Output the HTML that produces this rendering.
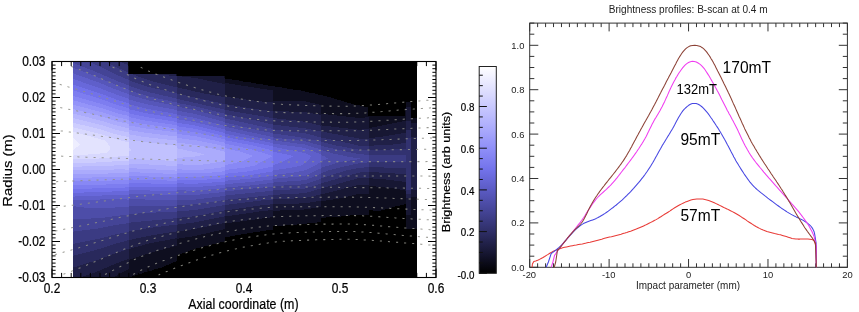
<!DOCTYPE html><html><head><meta charset="utf-8"><title>Brightness profiles</title>
<style>html,body{margin:0;padding:0;background:#fff}svg{display:block}text{font-family:"Liberation Sans",Arial,Helvetica,sans-serif}</style></head><body>
<svg width="859" height="312" viewBox="0 0 859 312">
<rect width="859" height="312" fill="#fff"/>
<g shape-rendering="crispEdges"><rect x="73.0" y="61.5" width="343.8" height="216.0" fill="#000"/><path fill="#0e0e1f" fill-rule="evenodd" d="M74,61.5L128.7,61.5L128.8,277.5L73,277.5L73,61.5Z"/><path fill="#0e0e1f" fill-rule="evenodd" d="M74,61.5L128.6,61.5L128.8,277.5L73,277.5L73,61.5Z"/><path fill="#171733" fill-rule="evenodd" d="M74,61.5L128.4,61.5L128.5,73.5L128.8,73.7L128.8,268.8L113.1,277.5L73,277.5L73,61.5Z"/><path fill="#202047" fill-rule="evenodd" d="M74,61.5L128.2,61.5L128.3,73.5L128.8,73.7L128.8,258.7L116.8,263.2L97.9,271.3L80.6,277.5L73,277.5L73,61.5Z"/><path fill="#29295c" fill-rule="evenodd" d="M74,61.5L127.9,61.5L128.2,73.5L128.8,73.8L128.8,248.6L95.9,260.5L73,267.6L73,61.5Z"/><path fill="#323270" fill-rule="evenodd" d="M74,61.5L120.1,61.5L127.8,65.1L128,73.5L128.8,73.9L128.8,240.1L116.8,243.3L97.9,249.4L73,255.8L73,61.5Z"/><path fill="#3b3b83" fill-rule="evenodd" d="M74,61.5L105.7,61.5L116.8,67.3L127.8,72.3L127.8,73.5L128.8,74L128.8,231.7L116.8,234.1L98.9,238.8L73,243.8L73,61.5Z"/><path fill="#444496" fill-rule="evenodd" d="M74,61.5L88,61.5L101.9,67.5L117.8,75.3L128.8,79.9L128.8,223.1L116.8,224.8L98.9,228.4L73,231.6L73,61.5Z"/><path fill="#4d4da8" fill-rule="evenodd" d="M73.3,63L94.9,71.4L117.8,81.3L128.8,85.5L128.8,214.8L116.8,215.8L99.9,218.2L73,219.2L73,62.9Z"/><path fill="#5656b9" fill-rule="evenodd" d="M73.6,68L94.9,76L116.8,85.3L128.8,89.7L128.8,207.2L116.8,207.4L99.9,208.5L87,207.8L75,206.4L73,206.7L73,67.7Z"/><path fill="#5f5fca" fill-rule="evenodd" d="M73.6,73.5L96.9,81.8L116.8,89.9L128.8,94.1L128.8,199.6L115.8,199L73,200.4L73,73.3Z"/><path fill="#6868da" fill-rule="evenodd" d="M73.2,79L99.9,88.1L117.8,95.2L128.8,98.7L128.8,194.5L73,196.6L73,78.9Z"/><path fill="#7272ea" fill-rule="evenodd" d="M74,84.9L100.9,93.7L117.8,100.1L128.8,103.3L128.8,190.9L73,192.9L73,84.6Z"/><path fill="#7d7df0" fill-rule="evenodd" d="M73.6,90.5L100.9,99L116.8,104.8L128.8,108.2L128.8,187.4L73,189.1L73,90.3Z"/><path fill="#8888f5" fill-rule="evenodd" d="M73.6,96L100.9,103.8L117.8,109.5L128.8,112.2L128.8,183.8L117.8,183.8L102.9,184.7L73,185.3L73,95.8Z"/><path fill="#9494f9" fill-rule="evenodd" d="M73.9,100.5L100.9,107.9L117.8,113.4L128.8,116L128.8,180.3L117.8,180.2L102.9,181L73,181.5L73,100.2Z"/><path fill="#9f9ffa" fill-rule="evenodd" d="M74,104.9L101.9,112.3L117.8,117.4L128.8,119.8L128.8,176.8L117.8,176.6L102.9,177.4L73,177.7L73,104.6Z"/><path fill="#ababfc" fill-rule="evenodd" d="M74,109.3L101.9,116.5L117.8,121.6L128.8,123.9L128.8,173.2L117.8,173L102.9,173.8L73,174L73,109.1Z"/><path fill="#b6b6fd" fill-rule="evenodd" d="M74,113.8L101.9,120.9L117.8,125.9L128.8,128.2L128.8,169.6L117.8,169.3L102.9,170.1L73,170.3L73,113.6Z"/><path fill="#c1c1fe" fill-rule="evenodd" d="M74,118.3L101.9,125.3L117.8,130.3L128.8,132.5L128.8,165.5L117.8,165.2L102.9,166.3L73,166.6L73,118.1Z"/><path fill="#cdcdfe" fill-rule="evenodd" d="M74,122.9L102.7,130L117.8,134.9L128.8,137.1L128.8,161.2L117.8,161L102.9,162.4L73,162.9L73,122.6Z"/><path fill="#d8d8fe" fill-rule="evenodd" d="M74,127.4L102.9,134.7L117.8,139.9L128.8,142.2L128.8,156.2L117.8,156.5L102.9,158.4L73,159.2L73,127.1Z"/><path fill="#e3e3fe" fill-rule="evenodd" d="M74,131.9L105,140.5L107.9,143.7L110.4,147.5L110,149L108.9,150.3L107,152.5L105.9,152.8L97.9,153.8L73,155.6L73,131.6Z"/><path fill="#eeeeff" fill-rule="evenodd" d="M73.1,137.5L80.1,144.5L73,150L73,137.4Z"/><path fill="#0e0e1f" fill-rule="evenodd" d="M129.8,73.6L175.8,73.6L176.6,74L176.8,261.1L161.7,267.5L158.8,268L156.8,269L153.8,269.5L151.8,270.5L148.8,271.1L146.8,272.1L143.8,272.6L138.8,274.6L135.8,275.1L133.8,276.1L128.8,277.5L128.8,73.6Z"/><path fill="#0e0e1f" fill-rule="evenodd" d="M129.8,73.6L175.8,73.6L176.5,74L176.8,253.7L149.4,265L128.8,275.4L128.8,73.6Z"/><path fill="#171733" fill-rule="evenodd" d="M129.8,73.7L175.8,73.8L176.3,74L176.3,75.5L176.8,75.8L176.8,245.6L150.8,252.8L128.8,259.8L128.8,73.7Z"/><path fill="#202047" fill-rule="evenodd" d="M129.8,73.8L175.8,73.9L176,75.5L176.8,75.9L176.8,238.2L149.8,243.3L128.8,249L128.8,73.8Z"/><path fill="#29295c" fill-rule="evenodd" d="M129.8,73.9L154.7,74L176.8,76.4L176.8,231.3L147.8,236L128.8,240.2L128.8,73.9Z"/><path fill="#323270" fill-rule="evenodd" d="M129.8,74L131.7,74L141.8,77.9L151.8,81.1L176.8,87.4L176.8,224.5L148.8,228.1L128.8,231.5L128.8,74Z"/><path fill="#3b3b83" fill-rule="evenodd" d="M129.6,80.5L139,84L148.8,87L176.8,93.4L176.8,218.1L128.8,222.7L128.8,80.2Z"/><path fill="#444496" fill-rule="evenodd" d="M129.1,86L148.1,92L176.8,98.6L176.8,211.6L144.8,213L128.8,214.2L128.8,85.9Z"/><path fill="#4d4da8" fill-rule="evenodd" d="M129.7,90.5L148.8,96.4L176.8,102.5L176.8,205.7L159.8,206.3L128.8,206.4L128.8,90.2Z"/><path fill="#5656b9" fill-rule="evenodd" d="M129.8,95L148.8,100.4L176.8,106.2L176.8,200.5L158.8,200.3L128.8,198.6L128.8,94.7Z"/><path fill="#5f5fca" fill-rule="evenodd" d="M128.9,99.5L147.8,104.5L176.8,110.1L176.8,195.3L148.8,193.8L128.8,193.9L128.8,99.5Z"/><path fill="#6868da" fill-rule="evenodd" d="M129.8,104.5L146.8,108.7L176.8,114.1L176.8,190.9L128.8,190.2L128.8,104.2Z"/><path fill="#7272ea" fill-rule="evenodd" d="M129.8,109.4L146.8,113.3L176.8,118.3L176.8,187.5L128.8,186.6L128.8,109.2Z"/><path fill="#7d7df0" fill-rule="evenodd" d="M129.8,113.5L146.1,117L176.8,121.9L176.8,184.2L128.8,182.9L128.8,113.2Z"/><path fill="#8888f5" fill-rule="evenodd" d="M129.8,117.3L145.8,120.6L176.8,125.3L176.8,180.8L128.8,179.4L128.8,117.1Z"/><path fill="#9494f9" fill-rule="evenodd" d="M129.8,121.3L144.8,124.2L176.8,128.6L176.8,177.6L128.8,175.7L128.8,121.1Z"/><path fill="#9f9ffa" fill-rule="evenodd" d="M129.2,125.5L144.8,128.4L176.8,132.4L176.8,174.1L128.8,172L128.8,125.4Z"/><path fill="#ababfc" fill-rule="evenodd" d="M129.6,130L144.8,132.7L176.8,136.5L176.8,170.6L128.8,168.1L128.8,129.9Z"/><path fill="#b6b6fd" fill-rule="evenodd" d="M129.8,134.5L143.8,136.9L176.8,140.6L176.8,166.2L142.8,164.1L128.8,163.7L128.8,134.3Z"/><path fill="#c1c1fe" fill-rule="evenodd" d="M129.8,139.4L143.8,142L176.8,145.7L176.8,161.1L141.8,159.4L128.8,159.3L128.8,139.2Z"/><path fill="#cdcdfe" fill-rule="evenodd" d="M129.7,148.5L130.7,149L131.2,150L130.9,150.5L128.8,150.9L128.8,148.2Z"/><path fill="#0e0e1f" fill-rule="evenodd" d="M177.8,75.6L223.8,75.6L224.5,76L224.8,241.3L194.8,248.8L176.8,255.5L176.8,75.6Z"/><path fill="#0e0e1f" fill-rule="evenodd" d="M177.8,75.7L224.4,76L224.4,78L224.8,78.2L224.8,236.7L198.8,243.2L176.8,249.6L176.8,75.7Z"/><path fill="#171733" fill-rule="evenodd" d="M177.8,75.8L223.8,75.9L224,78L224.8,78.4L224.8,229.1L194.8,236L176.8,238.9L176.8,75.8Z"/><path fill="#202047" fill-rule="evenodd" d="M177.8,76L194.8,77.9L224.8,84.1L224.8,222.9L194.8,228.9L176.8,231.6L176.8,76Z"/><path fill="#29295c" fill-rule="evenodd" d="M177.7,87.5L204.2,93.5L224.8,97.2L224.8,216.3L194.8,222.4L176.8,224.6L176.8,87.3Z"/><path fill="#323270" fill-rule="evenodd" d="M177.8,93.7L224.8,104.1L224.8,210.4L194.8,216.2L176.8,218L176.8,93.5Z"/><path fill="#3b3b83" fill-rule="evenodd" d="M177.7,99L224.8,109.7L224.8,205.1L194.8,210.1L176.8,211.4L176.8,98.8Z"/><path fill="#444496" fill-rule="evenodd" d="M177.8,103L194.8,106.3L224.8,113.8L224.8,200L194.8,204.3L176.8,205.3L176.8,102.8Z"/><path fill="#4d4da8" fill-rule="evenodd" d="M177.8,106.8L194.8,110L224.8,118L224.8,195.9L194.8,199.6L176.8,199.9L176.8,106.6Z"/><path fill="#5656b9" fill-rule="evenodd" d="M177.8,110.8L194.8,113.8L224.8,122L224.8,191.9L194.8,195L176.8,194.6L176.8,110.6Z"/><path fill="#5f5fca" fill-rule="evenodd" d="M177.8,115L194.8,117.8L224.8,125.9L224.8,188.1L194.8,190.6L176.8,190.4L176.8,114.8Z"/><path fill="#6868da" fill-rule="evenodd" d="M177.8,119.3L194.8,122.1L224.8,129.5L224.8,184.8L194.8,187.2L176.8,186.9L176.8,119.1Z"/><path fill="#7272ea" fill-rule="evenodd" d="M177.8,122.8L194.8,125.4L224.8,133L224.8,181.5L195.8,183.7L176.8,183.4L176.8,122.7Z"/><path fill="#7d7df0" fill-rule="evenodd" d="M177.8,126.3L194.8,128.8L224.8,136.1L224.8,178.2L195.8,180.3L176.8,179.9L176.8,126.1Z"/><path fill="#8888f5" fill-rule="evenodd" d="M177.8,129.8L194.8,132.1L224.8,139.4L224.8,174.9L197.6,177L176.8,176.6L176.8,129.6Z"/><path fill="#9494f9" fill-rule="evenodd" d="M177.8,133.9L194.8,136.1L224.8,142.7L224.8,171.2L208.8,172.8L196.8,173.5L176.8,173L176.8,133.7Z"/><path fill="#9f9ffa" fill-rule="evenodd" d="M177.6,138L195.8,140.3L212.4,143.5L224.8,146.5L224.8,166.9L210.9,169L200.8,169.7L194.8,170L176.8,169.3L176.8,137.9Z"/><path fill="#ababfc" fill-rule="evenodd" d="M177.8,142.6L194.8,144.8L203.8,146.4L224.8,151.7L224.8,160.4L222.8,161.2L213.8,163L202.8,164.5L194.8,164.9L176.8,164.3L176.8,142.5Z"/><path fill="#b6b6fd" fill-rule="evenodd" d="M177.8,148.5L198.8,152.9L204.3,154.5L192.8,157L176.8,157.8L176.8,148.3Z"/><path fill="#0e0e1f" fill-rule="evenodd" d="M225.4,78.5L239.8,80.7L240.8,81.2L242.8,81.2L243.8,81.7L245.8,81.7L246.8,82.2L249.8,82.2L250.8,82.7L252.8,82.7L253.8,83.2L267.8,85.2L268.8,85.7L271.8,85.7L272.8,86.2L272.8,229.5L241.8,234.3L224.8,237.4L224.8,78.2Z"/><path fill="#0e0e1f" fill-rule="evenodd" d="M225.2,78.5L233.8,79.8L234.8,80.3L236.8,80.3L237.8,80.8L239.8,80.8L240.8,81.3L242.8,81.3L243.8,81.8L245.8,81.8L246.8,82.3L249.8,82.3L259.8,84.3L267.8,85.3L268.8,85.8L271.8,85.8L272.8,86.3L272.8,225.5L224.8,233.3L224.8,78.3Z"/><path fill="#171733" fill-rule="evenodd" d="M225.8,83L272.8,90.5L272.8,217.1L224.8,223.5L224.8,82.9Z"/><path fill="#202047" fill-rule="evenodd" d="M225.8,96.8L260.8,101.4L272.8,102.4L272.8,210L260.8,211.3L224.8,216.6L224.8,96.6Z"/><path fill="#29295c" fill-rule="evenodd" d="M225.8,104.2L260.8,109.8L272.8,111.2L272.8,204.2L260.8,205.4L224.8,210.5L224.8,104Z"/><path fill="#323270" fill-rule="evenodd" d="M225.8,110L272.8,118.1L272.8,199.5L260.8,200.5L224.8,205L224.8,109.8Z"/><path fill="#3b3b83" fill-rule="evenodd" d="M224.9,114L250.8,119.4L272.8,124.5L272.8,195L224.8,199.8L224.8,114Z"/><path fill="#444496" fill-rule="evenodd" d="M225.5,118.5L272.8,129L272.8,190.7L224.8,195.6L224.8,118.3Z"/><path fill="#4d4da8" fill-rule="evenodd" d="M225.2,122.5L261.4,131L272.8,133.1L272.8,186.5L224.8,191.4L224.8,122.4Z"/><path fill="#5656b9" fill-rule="evenodd" d="M225.8,126.8L272.8,137L272.8,182.9L249.8,185.5L224.8,187.6L224.8,126.5Z"/><path fill="#5f5fca" fill-rule="evenodd" d="M225.8,130.4L258.5,137.5L272.8,139.8L272.8,179.4L249.8,182.1L224.8,184.2L224.8,130.1Z"/><path fill="#6868da" fill-rule="evenodd" d="M225.8,133.9L272.8,143L272.8,175.8L249.8,178.7L224.8,180.8L224.8,133.6Z"/><path fill="#7272ea" fill-rule="evenodd" d="M225.6,137L272.8,146.2L272.8,171.4L248.8,175.4L224.8,177.5L224.8,136.8Z"/><path fill="#7d7df0" fill-rule="evenodd" d="M225.8,140.4L251.8,145.3L272.8,150.5L272.8,166.6L249.8,171.2L224.8,173.9L224.8,140.2Z"/><path fill="#8888f5" fill-rule="evenodd" d="M225.8,143.8L250.8,149.1L272.8,156.1L254.6,165.5L245.8,167.4L224.8,170.1L224.8,143.6Z"/><path fill="#9494f9" fill-rule="evenodd" d="M224.9,148L239.6,151.5L252.5,155.5L252,156.5L249.8,157.8L241.9,161.5L224.8,165.2L224.8,148Z"/><path fill="#0e0e1f" fill-rule="evenodd" d="M273.8,86.3L283.8,87.8L284.8,88.3L286.8,88.3L287.8,88.8L289.8,88.8L290.8,89.2L292.8,89.2L293.8,89.7L299.8,90.2L311.8,93.2L313.8,93.2L318.8,94.7L320.8,94.7L320.8,222.1L298.8,224.4L272.8,226.5L272.8,86.3Z"/><path fill="#0e0e1f" fill-rule="evenodd" d="M273.8,86.4L283.8,87.9L284.8,88.4L286.8,88.4L287.8,88.9L289.8,88.9L290.8,89.4L292.8,89.4L293.8,89.9L299.8,90.4L311.8,93.4L313.8,93.4L318.8,94.9L320.8,94.9L320.8,217L272.8,220.6L272.8,86.4Z"/><path fill="#171733" fill-rule="evenodd" d="M290.8,101L304.8,101.3L320.8,104.9L320.8,207.1L303.8,209.6L272.8,210.8L272.8,101.3L290.1,101Z"/><path fill="#202047" fill-rule="evenodd" d="M273.8,110.9L304.8,112.1L320.8,114.8L320.8,200.8L304.8,203.3L272.8,204.4L272.8,110.9Z"/><path fill="#29295c" fill-rule="evenodd" d="M272.8,118L301.8,121.2L320.8,125.6L320.8,194.3L304.8,198L272.8,199.5L272.8,118Z"/><path fill="#323270" fill-rule="evenodd" d="M273.8,124.7L304.8,128.3L320.8,131.4L320.8,188.5L304.8,193.2L272.8,194.9L272.8,124.6Z"/><path fill="#3b3b83" fill-rule="evenodd" d="M273.8,129.3L304.8,133.2L320.8,137.4L320.8,183.5L304.8,188.7L272.8,190.5L272.8,129.2Z"/><path fill="#444496" fill-rule="evenodd" d="M273.4,133.5L298.8,137L320.8,141.5L320.8,178.8L304.8,184.3L272.8,186.2L272.8,133.4Z"/><path fill="#4d4da8" fill-rule="evenodd" d="M273.6,137.5L304.8,141.2L320.8,145.5L320.8,173.9L304.8,180.2L272.8,182.6L272.8,137.4Z"/><path fill="#5656b9" fill-rule="evenodd" d="M273.8,140.4L304.8,144.5L320.8,149.5L320.8,168.5L314.6,171L304.8,176L272.8,178.9L272.8,140.2Z"/><path fill="#5f5fca" fill-rule="evenodd" d="M273.8,143.7L304.8,147.9L320.8,154.4L320.8,162L315,165.5L304.8,170.4L294.8,172.4L272.8,175.1L272.8,143.5Z"/><path fill="#6868da" fill-rule="evenodd" d="M273.8,147L299.8,151.8L304.8,153.2L311.2,156L309.8,159L301.4,165.5L291.8,167.6L272.8,170.5L272.8,146.8Z"/><path fill="#7272ea" fill-rule="evenodd" d="M273.8,151.8L293.7,156L292.5,157L281.6,162L272.8,165.3L272.8,151.6Z"/><path fill="#0e0e1f" fill-rule="evenodd" d="M321.1,95L330.8,97.3L337.8,99.8L340.8,100.3L342.8,101.3L345.8,101.8L347.8,102.8L350.8,103.3L352.8,104.3L356.8,104.8L368.3,107.5L368.5,116L368.8,116.2L368.8,214.5L366.8,214.8L358.8,214.5L340.8,216.5L320.8,217.9L320.8,94.9Z"/><path fill="#0e0e1f" fill-rule="evenodd" d="M321.1,97.5L341.8,101L345.8,102L347.8,103L350.8,103.5L352.8,104.4L368,107.5L368.3,116L368.8,116.3L368.8,208.3L358.8,207.9L340.8,210.4L320.8,212.4L320.8,97.4Z"/><path fill="#171733" fill-rule="evenodd" d="M321.8,113.8L358.8,117.9L368.8,117.3L368.8,194.1L358.8,193.9L341.8,198.1L320.8,201.4L320.8,113.7Z"/><path fill="#202047" fill-rule="evenodd" d="M321.8,125.5L358.8,129.7L368.8,129.1L368.8,185L358.8,184.8L320.8,194.6L320.8,125.3Z"/><path fill="#29295c" fill-rule="evenodd" d="M321.8,131.5L358.8,138.5L368.8,138.6L368.8,177.9L358.8,178.1L320.8,188.6L320.8,131.3Z"/><path fill="#323270" fill-rule="evenodd" d="M320.9,137.5L341.4,141.5L357.7,145.5L368.8,145.9L368.8,172L358.8,172.6L320.8,183.5L320.8,137.5Z"/><path fill="#3b3b83" fill-rule="evenodd" d="M321.8,142L336.2,145.5L354.8,149L358.8,149.6L368.8,150.2L368.8,167.2L358.8,167.9L344.8,170.8L320.8,178.6L320.8,141.7Z"/><path fill="#444496" fill-rule="evenodd" d="M321.6,146L353.8,153.2L358.8,154.1L368.8,154.9L368.8,162.3L358.8,163.3L340.8,167.2L328.4,170.5L320.8,173.5L320.8,145.8Z"/><path fill="#4d4da8" fill-rule="evenodd" d="M321,150L333.8,153.6L349.8,157L359.6,158.5L360.1,159L340.8,161.8L320.8,167.9L320.8,149.9Z"/><path fill="#5656b9" fill-rule="evenodd" d="M321.8,155.3L323.8,156L328.4,159L320.8,161L320.8,155Z"/><path fill="#0e0e1f" fill-rule="evenodd" d="M406,99.9L406,215.1L405.6,204.5L405,204.2L392.9,207.1L390.9,208.1L381.9,210.1L379.9,211L377.8,211.2L368.8,209.9L368.8,116.2L405,116.2L405.3,116L405.7,100Z"/><path fill="#0e0e1f" fill-rule="evenodd" d="M406,102.2L406,206.5L405.9,204.5L405,204L402,204.5L400,205.5L386.2,203L368.8,200.6L368.8,116.4L405,116.3L405.6,116L406,102.5Z"/><path fill="#171733" fill-rule="evenodd" d="M405,120.9L406,120.6L406,190.6L394.3,188.5L368.8,185.7L368.8,128.2L404.5,121Z"/><path fill="#202047" fill-rule="evenodd" d="M404,133L406,132.5L406,182L386.9,179.6L368.8,178.2L368.8,138.2L384.9,136.3L403.9,133Z"/><path fill="#29295c" fill-rule="evenodd" d="M405,142.9L406,142.7L406,174.4L386.9,172.8L368.8,172.1L368.8,145.8L393.4,144.5L404.2,143Z"/><path fill="#323270" fill-rule="evenodd" d="M404,149L406,148.8L406,168.1L368.8,167.1L368.8,150.3L403.4,149Z"/><path fill="#3b3b83" fill-rule="evenodd" d="M397,155L406,154.6L406,162.4L386.9,161.9L368.8,162.1L368.8,155.2L396.7,155Z"/><path fill="#0e0e1f" fill-rule="evenodd" d="M407,101.7L411,101.7L411,229.3L410,229.3L406,229.3L406,101.7Z"/><path fill="#0e0e1f" fill-rule="evenodd" d="M407,101.8L411,101.8L411,229.2L406,229.2L406,101.8Z"/><path fill="#171733" fill-rule="evenodd" d="M407,106.7L411,106.7L411,214.5L406,214.5L406,106.7Z"/><path fill="#202047" fill-rule="evenodd" d="M407,120.8L411,120.8L411,197.9L406,197.9L406,120.8Z"/><path fill="#29295c" fill-rule="evenodd" d="M407,130.2L411,130.2L411,193.7L406,193.7L406,130.2Z"/><path fill="#323270" fill-rule="evenodd" d="M407,138.4L411,138.4L411,189.6L406,189.6L406,138.4Z"/><path fill="#0e0e1f" fill-rule="evenodd" d="M412,117.7L416.8,117.7L416.8,229.2L411,229.2L411,117.7Z"/><path fill="#0e0e1f" fill-rule="evenodd" d="M412,117.8L416.8,117.8L416.8,225.7L411,225.7L411,117.8Z"/><path fill="#171733" fill-rule="evenodd" d="M412,122.9L416.8,122.9L416.8,197L411,197L411,122.9Z"/><path fill="#202047" fill-rule="evenodd" d="M412,137.3L416.8,137.3L416.8,190.2L411,190.2L411,137.3Z"/></g>
<g stroke="#8f8f88" stroke-width="1.05" stroke-dasharray="2.1 6" opacity="0.88"><polyline fill="none" stroke-dashoffset="0.4" points="53.5,155.8 55.0,155.8 56.5,155.9 58.0,156.0 59.5,156.1 61.0,156.1 62.5,156.2 64.0,156.3 65.5,156.3 67.0,156.4 68.5,156.5 70.0,156.5 71.5,156.6 73.0,156.6 74.5,156.7 76.0,156.8 77.5,156.8 79.0,156.9 80.5,156.9 82.0,157.0 83.5,157.0 85.0,157.1 86.5,157.2 88.0,157.2 89.5,157.3 91.0,157.3 92.5,157.4 94.0,157.4 95.5,157.5 97.0,157.5 98.5,157.6 100.0,157.6 101.5,157.7 103.0,157.7 104.5,157.8 106.0,157.8 107.5,157.9 109.0,157.9 110.5,158.0 112.0,158.0 113.5,158.1 115.0,158.1 116.5,158.2 118.0,158.2 119.5,158.3 121.0,158.3 122.5,158.4 124.0,158.4 125.5,158.5 127.0,158.5 128.5,158.6 130.0,158.6 131.5,158.6 133.0,158.7 134.5,158.7 136.0,158.8 137.5,158.8 139.0,158.9 140.5,158.9 142.0,159.0 143.5,159.0 145.0,159.0 146.5,159.1 148.0,159.1 149.5,159.2 151.0,159.2 152.5,159.3 154.0,159.3 155.5,159.3 157.0,159.4 158.5,159.4 160.0,159.5 161.5,159.5 163.0,159.5 164.5,159.6 166.0,159.6 167.5,159.7 169.0,159.7 170.5,159.8 172.0,159.8 173.5,159.8 175.0,159.9 176.5,159.9 178.0,160.0 179.5,160.0 181.0,160.0 182.5,160.1 184.0,160.1 185.5,160.2 187.0,160.2 188.5,160.2 190.0,160.3 191.5,160.3 193.0,160.3 194.5,160.4 196.0,160.4 197.5,160.5 199.0,160.5 200.5,160.5 202.0,160.6 203.5,160.6 205.0,160.6 206.5,160.7 208.0,160.7 209.5,160.8 211.0,160.8 212.5,160.8 214.0,160.9 215.5,160.9 217.0,160.9 218.5,161.0 220.0,161.0 221.5,161.0 223.0,161.1 224.5,161.1 226.0,161.1 227.5,161.2 229.0,161.2 230.5,161.2 232.0,161.2 233.5,161.3 235.0,161.3 236.5,161.3 238.0,161.4 239.5,161.4 241.0,161.4 242.5,161.4 244.0,161.5 245.5,161.5 247.0,161.5 248.5,161.6 250.0,161.6 251.5,161.6 253.0,161.6 254.5,161.7 256.0,161.7 257.5,161.7 259.0,161.7 260.5,161.8 262.0,161.8 263.5,161.8 265.0,161.9 266.5,161.9 268.0,161.9 269.5,161.9 271.0,161.9 272.5,162.0 274.0,162.0 275.5,162.0 277.0,162.0 278.5,162.0 280.0,162.0 281.5,162.0 283.0,162.0 284.5,162.0 286.0,162.0 287.5,162.0 289.0,162.0 290.5,162.0 292.0,162.0 293.5,162.0 295.0,162.0 296.5,162.0 298.0,162.0 299.5,162.0 301.0,162.0 302.5,161.9 304.0,161.9 305.5,161.9 307.0,161.9 308.5,161.9 310.0,161.9 311.5,161.8 313.0,161.8 314.5,161.8 316.0,161.8 317.5,161.8 319.0,161.8 320.5,161.7 322.0,161.7 323.5,161.7 325.0,161.7 326.5,161.7 328.0,161.6 329.5,161.6 331.0,161.6 332.5,161.6 334.0,161.6 335.5,161.6 337.0,161.6 338.5,161.6 340.0,161.6 341.5,161.6 343.0,161.6 344.5,161.6 346.0,161.6 347.5,161.6 349.0,161.6 350.5,161.6 352.0,161.6 353.5,161.6 355.0,161.6 356.5,161.6 358.0,161.6 359.5,161.6 361.0,161.6 362.5,161.6 364.0,161.6 365.5,161.6 367.0,161.6 368.5,161.6 370.0,161.6 371.5,161.6 373.0,161.6 374.5,161.6 376.0,161.6 377.5,161.6 379.0,161.6 380.5,161.6 382.0,161.6 383.5,161.6 385.0,161.6 386.5,161.6 388.0,161.6 389.5,161.6 391.0,161.6 392.5,161.6 394.0,161.6 395.5,161.6 397.0,161.6 398.5,161.6 400.0,161.6 401.5,161.6 403.0,161.6 404.5,161.6 406.0,161.6 407.5,161.6 409.0,161.6 410.5,161.6 412.0,161.6 413.5,161.6 415.0,161.6 416.5,161.6 418.0,161.6 419.5,161.6 421.0,161.6 422.5,161.6 424.0,161.6 425.5,161.6 427.0,161.5 428.5,161.5 430.0,161.5 431.5,161.5 433.0,161.5 434.5,161.5"/><polyline fill="none" stroke-dashoffset="0.8" points="53.5,129.9 55.0,130.1 56.5,130.3 58.0,130.5 59.5,130.7 61.0,130.9 62.5,131.1 64.0,131.3 65.5,131.5 67.0,131.7 68.5,131.9 70.0,132.1 71.5,132.3 73.0,132.4 74.5,132.6 76.0,132.8 77.5,133.0 79.0,133.2 80.5,133.4 82.0,133.6 83.5,133.8 85.0,134.0 86.5,134.2 88.0,134.4 89.5,134.6 91.0,134.8 92.5,135.0 94.0,135.2 95.5,135.4 97.0,135.6 98.5,135.8 100.0,136.0 101.5,136.3 103.0,136.5 104.5,136.7 106.0,136.9 107.5,137.1 109.0,137.3 110.5,137.5 112.0,137.7 113.5,137.9 115.0,138.1 116.5,138.3 118.0,138.5 119.5,138.7 121.0,138.9 122.5,139.1 124.0,139.3 125.5,139.5 127.0,139.7 128.5,139.9 130.0,140.0 131.5,140.2 133.0,140.4 134.5,140.6 136.0,140.8 137.5,141.0 139.0,141.1 140.5,141.3 142.0,141.5 143.5,141.7 145.0,141.8 146.5,142.0 148.0,142.1 149.5,142.3 151.0,142.5 152.5,142.6 154.0,142.8 155.5,142.9 157.0,143.0 158.5,143.2 160.0,143.3 161.5,143.4 163.0,143.6 164.5,143.7 166.0,143.9 167.5,144.0 169.0,144.1 170.5,144.3 172.0,144.4 173.5,144.5 175.0,144.6 176.5,144.8 178.0,144.9 179.5,145.0 181.0,145.2 182.5,145.3 184.0,145.4 185.5,145.5 187.0,145.7 188.5,145.8 190.0,145.9 191.5,146.0 193.0,146.1 194.5,146.3 196.0,146.4 197.5,146.5 199.0,146.6 200.5,146.7 202.0,146.8 203.5,146.9 205.0,147.0 206.5,147.1 208.0,147.3 209.5,147.4 211.0,147.5 212.5,147.6 214.0,147.7 215.5,147.8 217.0,147.9 218.5,148.0 220.0,148.1 221.5,148.1 223.0,148.2 224.5,148.3 226.0,148.4 227.5,148.5 229.0,148.6 230.5,148.7 232.0,148.7 233.5,148.8 235.0,148.9 236.5,149.0 238.0,149.1 239.5,149.1 241.0,149.2 242.5,149.3 244.0,149.3 245.5,149.4 247.0,149.5 248.5,149.5 250.0,149.6 251.5,149.7 253.0,149.7 254.5,149.8 256.0,149.9 257.5,149.9 259.0,150.0 260.5,150.0 262.0,150.1 263.5,150.2 265.0,150.2 266.5,150.3 268.0,150.3 269.5,150.4 271.0,150.4 272.5,150.5 274.0,150.5 275.5,150.5 277.0,150.6 278.5,150.6 280.0,150.6 281.5,150.6 283.0,150.6 284.5,150.6 286.0,150.6 287.5,150.6 289.0,150.6 290.5,150.6 292.0,150.6 293.5,150.6 295.0,150.6 296.5,150.6 298.0,150.6 299.5,150.6 301.0,150.6 302.5,150.6 304.0,150.6 305.5,150.6 307.0,150.6 308.5,150.5 310.0,150.5 311.5,150.5 313.0,150.5 314.5,150.5 316.0,150.5 317.5,150.5 319.0,150.5 320.5,150.4 322.0,150.4 323.5,150.4 325.0,150.4 326.5,150.4 328.0,150.4 329.5,150.4 331.0,150.3 332.5,150.3 334.0,150.3 335.5,150.3 337.0,150.3 338.5,150.3 340.0,150.2 341.5,150.2 343.0,150.2 344.5,150.2 346.0,150.2 347.5,150.2 349.0,150.2 350.5,150.1 352.0,150.1 353.5,150.1 355.0,150.1 356.5,150.1 358.0,150.1 359.5,150.1 361.0,150.0 362.5,150.0 364.0,150.0 365.5,150.0 367.0,150.0 368.5,150.0 370.0,150.0 371.5,149.9 373.0,149.9 374.5,149.9 376.0,149.9 377.5,149.9 379.0,149.9 380.5,149.8 382.0,149.8 383.5,149.8 385.0,149.8 386.5,149.8 388.0,149.7 389.5,149.7 391.0,149.7 392.5,149.7 394.0,149.7 395.5,149.7 397.0,149.6 398.5,149.6 400.0,149.6 401.5,149.6 403.0,149.6 404.5,149.5 406.0,149.5 407.5,149.5 409.0,149.5 410.5,149.4 412.0,149.4 413.5,149.4 415.0,149.4 416.5,149.4 418.0,149.3 419.5,149.3 421.0,149.3 422.5,149.3 424.0,149.2 425.5,149.2 427.0,149.2 428.5,149.1 430.0,149.1 431.5,149.1 433.0,149.1 434.5,149.0"/><polyline fill="none" stroke-dashoffset="1.2" points="53.5,106.2 55.0,106.5 56.5,106.8 58.0,107.1 59.5,107.4 61.0,107.7 62.5,108.0 64.0,108.3 65.5,108.6 67.0,108.9 68.5,109.2 70.0,109.5 71.5,109.8 73.0,110.1 74.5,110.4 76.0,110.7 77.5,111.0 79.0,111.3 80.5,111.6 82.0,111.9 83.5,112.2 85.0,112.5 86.5,112.8 88.0,113.1 89.5,113.5 91.0,113.8 92.5,114.1 94.0,114.4 95.5,114.8 97.0,115.1 98.5,115.4 100.0,115.7 101.5,116.1 103.0,116.4 104.5,116.7 106.0,117.1 107.5,117.4 109.0,117.7 110.5,118.1 112.0,118.4 113.5,118.7 115.0,119.0 116.5,119.4 118.0,119.7 119.5,120.0 121.0,120.3 122.5,120.6 124.0,121.0 125.5,121.3 127.0,121.6 128.5,121.9 130.0,122.2 131.5,122.5 133.0,122.8 134.5,123.1 136.0,123.4 137.5,123.7 139.0,124.0 140.5,124.3 142.0,124.6 143.5,124.9 145.0,125.1 146.5,125.4 148.0,125.7 149.5,125.9 151.0,126.2 152.5,126.5 154.0,126.7 155.5,127.0 157.0,127.2 158.5,127.4 160.0,127.7 161.5,127.9 163.0,128.1 164.5,128.4 166.0,128.6 167.5,128.8 169.0,129.1 170.5,129.3 172.0,129.5 173.5,129.8 175.0,130.0 176.5,130.2 178.0,130.4 179.5,130.7 181.0,130.9 182.5,131.1 184.0,131.4 185.5,131.6 187.0,131.8 188.5,132.0 190.0,132.2 191.5,132.5 193.0,132.7 194.5,132.9 196.0,133.1 197.5,133.3 199.0,133.5 200.5,133.7 202.0,133.9 203.5,134.1 205.0,134.3 206.5,134.5 208.0,134.7 209.5,134.9 211.0,135.1 212.5,135.3 214.0,135.4 215.5,135.6 217.0,135.8 218.5,136.0 220.0,136.1 221.5,136.3 223.0,136.4 224.5,136.6 226.0,136.7 227.5,136.9 229.0,137.0 230.5,137.2 232.0,137.3 233.5,137.4 235.0,137.6 236.5,137.7 238.0,137.8 239.5,137.9 241.0,138.0 242.5,138.1 244.0,138.2 245.5,138.3 247.0,138.4 248.5,138.5 250.0,138.5 251.5,138.6 253.0,138.7 254.5,138.8 256.0,138.9 257.5,138.9 259.0,139.0 260.5,139.1 262.0,139.2 263.5,139.2 265.0,139.3 266.5,139.4 268.0,139.4 269.5,139.5 271.0,139.5 272.5,139.6 274.0,139.6 275.5,139.7 277.0,139.7 278.5,139.8 280.0,139.8 281.5,139.8 283.0,139.9 284.5,139.9 286.0,139.9 287.5,139.9 289.0,140.0 290.5,140.0 292.0,140.0 293.5,140.0 295.0,140.1 296.5,140.1 298.0,140.1 299.5,140.1 301.0,140.1 302.5,140.2 304.0,140.2 305.5,140.2 307.0,140.2 308.5,140.2 310.0,140.3 311.5,140.3 313.0,140.3 314.5,140.3 316.0,140.3 317.5,140.4 319.0,140.4 320.5,140.4 322.0,140.4 323.5,140.4 325.0,140.4 326.5,140.4 328.0,140.4 329.5,140.5 331.0,140.5 332.5,140.5 334.0,140.5 335.5,140.5 337.0,140.5 338.5,140.5 340.0,140.5 341.5,140.5 343.0,140.5 344.5,140.5 346.0,140.5 347.5,140.5 349.0,140.5 350.5,140.5 352.0,140.5 353.5,140.4 355.0,140.4 356.5,140.4 358.0,140.4 359.5,140.3 361.0,140.3 362.5,140.3 364.0,140.2 365.5,140.2 367.0,140.2 368.5,140.1 370.0,140.1 371.5,140.0 373.0,140.0 374.5,139.9 376.0,139.9 377.5,139.8 379.0,139.8 380.5,139.7 382.0,139.7 383.5,139.6 385.0,139.6 386.5,139.5 388.0,139.5 389.5,139.4 391.0,139.4 392.5,139.3 394.0,139.2 395.5,139.2 397.0,139.1 398.5,139.1 400.0,139.0 401.5,139.0 403.0,138.9 404.5,138.9 406.0,138.8 407.5,138.8 409.0,138.7 410.5,138.7 412.0,138.6 413.5,138.6 415.0,138.5 416.5,138.5 418.0,138.4 419.5,138.4 421.0,138.3 422.5,138.3 424.0,138.2 425.5,138.2 427.0,138.1 428.5,138.1 430.0,138.0 431.5,138.0 433.0,137.9 434.5,137.9"/><polyline fill="none" stroke-dashoffset="1.6" points="53.5,82.5 55.0,83.0 56.5,83.4 58.0,83.8 59.5,84.3 61.0,84.7 62.5,85.1 64.0,85.6 65.5,86.0 67.0,86.4 68.5,86.9 70.0,87.3 71.5,87.7 73.0,88.2 74.5,88.6 76.0,89.0 77.5,89.5 79.0,89.9 80.5,90.4 82.0,90.8 83.5,91.3 85.0,91.7 86.5,92.2 88.0,92.6 89.5,93.1 91.0,93.6 92.5,94.0 94.0,94.5 95.5,95.0 97.0,95.4 98.5,95.9 100.0,96.4 101.5,96.9 103.0,97.3 104.5,97.8 106.0,98.3 107.5,98.8 109.0,99.2 110.5,99.7 112.0,100.2 113.5,100.7 115.0,101.1 116.5,101.6 118.0,102.1 119.5,102.5 121.0,103.0 122.5,103.5 124.0,103.9 125.5,104.4 127.0,104.8 128.5,105.3 130.0,105.7 131.5,106.1 133.0,106.6 134.5,107.0 136.0,107.4 137.5,107.9 139.0,108.3 140.5,108.7 142.0,109.1 143.5,109.5 145.0,109.9 146.5,110.3 148.0,110.6 149.5,111.0 151.0,111.4 152.5,111.7 154.0,112.1 155.5,112.4 157.0,112.7 158.5,113.1 160.0,113.4 161.5,113.7 163.0,114.0 164.5,114.4 166.0,114.7 167.5,115.0 169.0,115.3 170.5,115.6 172.0,115.9 173.5,116.3 175.0,116.6 176.5,116.9 178.0,117.2 179.5,117.5 181.0,117.8 182.5,118.1 184.0,118.4 185.5,118.7 187.0,119.0 188.5,119.3 190.0,119.5 191.5,119.8 193.0,120.1 194.5,120.4 196.0,120.7 197.5,121.0 199.0,121.2 200.5,121.5 202.0,121.8 203.5,122.0 205.0,122.3 206.5,122.5 208.0,122.8 209.5,123.0 211.0,123.3 212.5,123.5 214.0,123.8 215.5,124.0 217.0,124.3 218.5,124.5 220.0,124.7 221.5,124.9 223.0,125.1 224.5,125.4 226.0,125.6 227.5,125.8 229.0,126.0 230.5,126.2 232.0,126.4 233.5,126.6 235.0,126.7 236.5,126.9 238.0,127.1 239.5,127.3 241.0,127.4 242.5,127.6 244.0,127.7 245.5,127.9 247.0,128.0 248.5,128.2 250.0,128.3 251.5,128.5 253.0,128.6 254.5,128.8 256.0,129.0 257.5,129.1 259.0,129.2 260.5,129.4 262.0,129.5 263.5,129.7 265.0,129.8 266.5,129.9 268.0,130.1 269.5,130.2 271.0,130.3 272.5,130.4 274.0,130.5 275.5,130.5 277.0,130.6 278.5,130.7 280.0,130.7 281.5,130.8 283.0,130.8 284.5,130.8 286.0,130.8 287.5,130.8 289.0,130.8 290.5,130.8 292.0,130.8 293.5,130.8 295.0,130.8 296.5,130.8 298.0,130.8 299.5,130.8 301.0,130.8 302.5,130.8 304.0,130.8 305.5,130.8 307.0,130.8 308.5,130.8 310.0,130.8 311.5,130.8 313.0,130.8 314.5,130.8 316.0,130.8 317.5,130.8 319.0,130.8 320.5,130.8 322.0,130.8 323.5,130.8 325.0,130.8 326.5,130.8 328.0,130.8 329.5,130.8 331.0,130.8 332.5,130.8 334.0,130.8 335.5,130.8 337.0,130.8 338.5,130.8 340.0,130.8 341.5,130.8 343.0,130.8 344.5,130.8 346.0,130.8 347.5,130.8 349.0,130.8 350.5,130.8 352.0,130.7 353.5,130.7 355.0,130.7 356.5,130.7 358.0,130.6 359.5,130.6 361.0,130.5 362.5,130.5 364.0,130.5 365.5,130.4 367.0,130.3 368.5,130.3 370.0,130.2 371.5,130.2 373.0,130.1 374.5,130.0 376.0,130.0 377.5,129.9 379.0,129.8 380.5,129.8 382.0,129.7 383.5,129.6 385.0,129.5 386.5,129.5 388.0,129.4 389.5,129.3 391.0,129.2 392.5,129.2 394.0,129.1 395.5,129.0 397.0,128.9 398.5,128.9 400.0,128.8 401.5,128.7 403.0,128.7 404.5,128.6 406.0,128.5 407.5,128.5 409.0,128.4 410.5,128.4 412.0,128.3 413.5,128.2 415.0,128.2 416.5,128.1 418.0,128.0 419.5,128.0 421.0,127.9 422.5,127.8 424.0,127.8 425.5,127.7 427.0,127.6 428.5,127.6 430.0,127.5 431.5,127.4 433.0,127.3 434.5,127.3"/><polyline fill="none" stroke-dashoffset="2.0" points="65.5,64.1 67.0,64.7 68.5,65.3 70.0,65.8 71.5,66.4 73.0,67.0 74.5,67.6 76.0,68.2 77.5,68.7 79.0,69.3 80.5,69.9 82.0,70.5 83.5,71.1 85.0,71.7 86.5,72.3 88.0,73.0 89.5,73.6 91.0,74.2 92.5,74.9 94.0,75.5 95.5,76.1 97.0,76.8 98.5,77.4 100.0,78.1 101.5,78.7 103.0,79.4 104.5,80.0 106.0,80.7 107.5,81.3 109.0,82.0 110.5,82.6 112.0,83.3 113.5,83.9 115.0,84.5 116.5,85.2 118.0,85.8 119.5,86.4 121.0,87.1 122.5,87.7 124.0,88.3 125.5,88.9 127.0,89.5 128.5,90.2 130.0,90.8 131.5,91.3 133.0,91.9 134.5,92.5 136.0,93.1 137.5,93.6 139.0,94.2 140.5,94.7 142.0,95.3 143.5,95.8 145.0,96.3 146.5,96.8 148.0,97.3 149.5,97.8 151.0,98.3 152.5,98.7 154.0,99.2 155.5,99.6 157.0,100.0 158.5,100.4 160.0,100.8 161.5,101.2 163.0,101.6 164.5,102.0 166.0,102.4 167.5,102.8 169.0,103.2 170.5,103.6 172.0,104.0 173.5,104.4 175.0,104.7 176.5,105.1 178.0,105.5 179.5,105.9 181.0,106.2 182.5,106.6 184.0,107.0 185.5,107.3 187.0,107.7 188.5,108.0 190.0,108.4 191.5,108.7 193.0,109.1 194.5,109.4 196.0,109.8 197.5,110.1 199.0,110.4 200.5,110.7 202.0,111.1 203.5,111.4 205.0,111.7 206.5,112.0 208.0,112.3 209.5,112.6 211.0,112.9 212.5,113.2 214.0,113.5 215.5,113.7 217.0,114.0 218.5,114.3 220.0,114.6 221.5,114.8 223.0,115.1 224.5,115.3 226.0,115.6 227.5,115.8 229.0,116.0 230.5,116.3 232.0,116.5 233.5,116.7 235.0,116.9 236.5,117.1 238.0,117.3 239.5,117.5 241.0,117.7 242.5,117.9 244.0,118.0 245.5,118.2 247.0,118.4 248.5,118.5 250.0,118.7 251.5,118.8 253.0,119.0 254.5,119.1 256.0,119.3 257.5,119.4 259.0,119.6 260.5,119.7 262.0,119.9 263.5,120.0 265.0,120.1 266.5,120.2 268.0,120.4 269.5,120.5 271.0,120.6 272.5,120.7 274.0,120.8 275.5,120.9 277.0,121.0 278.5,121.1 280.0,121.1 281.5,121.2 283.0,121.2 284.5,121.3 286.0,121.3 287.5,121.4 289.0,121.4 290.5,121.4 292.0,121.5 293.5,121.5 295.0,121.6 296.5,121.6 298.0,121.6 299.5,121.7 301.0,121.7 302.5,121.7 304.0,121.7 305.5,121.8 307.0,121.8 308.5,121.8 310.0,121.9 311.5,121.9 313.0,121.9 314.5,121.9 316.0,122.0 317.5,122.0 319.0,122.0 320.5,122.0 322.0,122.0 323.5,122.1 325.0,122.1 326.5,122.1 328.0,122.1 329.5,122.1 331.0,122.1 332.5,122.2 334.0,122.2 335.5,122.2 337.0,122.2 338.5,122.2 340.0,122.2 341.5,122.2 343.0,122.2 344.5,122.2 346.0,122.2 347.5,122.2 349.0,122.2 350.5,122.2 352.0,122.1 353.5,122.1 355.0,122.0 356.5,122.0 358.0,122.0 359.5,121.9 361.0,121.8 362.5,121.8 364.0,121.7 365.5,121.6 367.0,121.5 368.5,121.5 370.0,121.4 371.5,121.3 373.0,121.2 374.5,121.1 376.0,121.0 377.5,120.9 379.0,120.8 380.5,120.7 382.0,120.6 383.5,120.5 385.0,120.4 386.5,120.3 388.0,120.2 389.5,120.1 391.0,120.0 392.5,119.9 394.0,119.8 395.5,119.7 397.0,119.6 398.5,119.5 400.0,119.4 401.5,119.3 403.0,119.2 404.5,119.1 406.0,119.1 407.5,119.0 409.0,118.9 410.5,118.8 412.0,118.7 413.5,118.6 415.0,118.6 416.5,118.5 418.0,118.4 419.5,118.3 421.0,118.2 422.5,118.2 424.0,118.1 425.5,118.0 427.0,117.9 428.5,117.8 430.0,117.7 431.5,117.7 433.0,117.6 434.5,117.5"/><polyline fill="none" stroke-dashoffset="2.4" points="107.5,64.4 109.0,65.2 110.5,65.9 112.0,66.7 113.5,67.5 115.0,68.3 116.5,69.1 118.0,69.9 119.5,70.6 121.0,71.4 122.5,72.2 124.0,72.9 125.5,73.7 127.0,74.4 128.5,75.1 130.0,75.9 131.5,76.6 133.0,77.3 134.5,78.0 136.0,78.7 137.5,79.4 139.0,80.0 140.5,80.7 142.0,81.3 143.5,82.0 145.0,82.6 146.5,83.2 148.0,83.8 149.5,84.4 151.0,85.0 152.5,85.5 154.0,86.0 155.5,86.6 157.0,87.1 158.5,87.6 160.0,88.0 161.5,88.5 163.0,89.0 164.5,89.5 166.0,90.0 167.5,90.4 169.0,90.9 170.5,91.4 172.0,91.8 173.5,92.3 175.0,92.7 176.5,93.2 178.0,93.6 179.5,94.1 181.0,94.5 182.5,95.0 184.0,95.4 185.5,95.8 187.0,96.2 188.5,96.7 190.0,97.1 191.5,97.5 193.0,97.9 194.5,98.3 196.0,98.7 197.5,99.1 199.0,99.5 200.5,99.9 202.0,100.3 203.5,100.6 205.0,101.0 206.5,101.4 208.0,101.7 209.5,102.1 211.0,102.4 212.5,102.8 214.0,103.1 215.5,103.5 217.0,103.8 218.5,104.1 220.0,104.4 221.5,104.7 223.0,105.0 224.5,105.3 226.0,105.6 227.5,105.9 229.0,106.2 230.5,106.5 232.0,106.7 233.5,107.0 235.0,107.2 236.5,107.5 238.0,107.7 239.5,107.9 241.0,108.2 242.5,108.4 244.0,108.6 245.5,108.8 247.0,109.0 248.5,109.2 250.0,109.4 251.5,109.6 253.0,109.8 254.5,109.9 256.0,110.1 257.5,110.3 259.0,110.5 260.5,110.7 262.0,110.8 263.5,111.0 265.0,111.2 266.5,111.3 268.0,111.5 269.5,111.6 271.0,111.7 272.5,111.9 274.0,112.0 275.5,112.1 277.0,112.2 278.5,112.3 280.0,112.4 281.5,112.5 283.0,112.5 284.5,112.6 286.0,112.6 287.5,112.7 289.0,112.7 290.5,112.8 292.0,112.8 293.5,112.8 295.0,112.9 296.5,112.9 298.0,113.0 299.5,113.0 301.0,113.0 302.5,113.1 304.0,113.1 305.5,113.1 307.0,113.2 308.5,113.2 310.0,113.2 311.5,113.3 313.0,113.3 314.5,113.3 316.0,113.3 317.5,113.4 319.0,113.4 320.5,113.4 322.0,113.4 323.5,113.5 325.0,113.5 326.5,113.5 328.0,113.5 329.5,113.5 331.0,113.5 332.5,113.5 334.0,113.6 335.5,113.6 337.0,113.6 338.5,113.6 340.0,113.6 341.5,113.6 343.0,113.6 344.5,113.6 346.0,113.6 347.5,113.6 349.0,113.6 350.5,113.5 352.0,113.5 353.5,113.5 355.0,113.4 356.5,113.3 358.0,113.3 359.5,113.2 361.0,113.1 362.5,113.0 364.0,113.0 365.5,112.9 367.0,112.8 368.5,112.7 370.0,112.5 371.5,112.4 373.0,112.3 374.5,112.2 376.0,112.1 377.5,112.0 379.0,111.8 380.5,111.7 382.0,111.6 383.5,111.4 385.0,111.3 386.5,111.2 388.0,111.0 389.5,110.9 391.0,110.8 392.5,110.6 394.0,110.5 395.5,110.4 397.0,110.3 398.5,110.1 400.0,110.0 401.5,109.9 403.0,109.8 404.5,109.7 406.0,109.6 407.5,109.5 409.0,109.4 410.5,109.3 412.0,109.2 413.5,109.1 415.0,109.0 416.5,108.9 418.0,108.7 419.5,108.6 421.0,108.5 422.5,108.4 424.0,108.3 425.5,108.2 427.0,108.1 428.5,108.0 430.0,107.9 431.5,107.8 433.0,107.7 434.5,107.6"/><polyline fill="none" stroke-dashoffset="2.8" points="136.0,64.8 137.5,65.5 139.0,66.3 140.5,67.1 142.0,67.9 143.5,68.6 145.0,69.3 146.5,70.0 148.0,70.7 149.5,71.4 151.0,72.1 152.5,72.7 154.0,73.3 155.5,73.9 157.0,74.5 158.5,75.1 160.0,75.7 161.5,76.2 163.0,76.8 164.5,77.3 166.0,77.9 167.5,78.4 169.0,79.0 170.5,79.5 172.0,80.1 173.5,80.6 175.0,81.1 176.5,81.6 178.0,82.1 179.5,82.7 181.0,83.2 182.5,83.7 184.0,84.2 185.5,84.7 187.0,85.2 188.5,85.7 190.0,86.1 191.5,86.6 193.0,87.1 194.5,87.5 196.0,88.0 197.5,88.5 199.0,88.9 200.5,89.4 202.0,89.8 203.5,90.2 205.0,90.7 206.5,91.1 208.0,91.5 209.5,91.9 211.0,92.3 212.5,92.7 214.0,93.1 215.5,93.5 217.0,93.9 218.5,94.3 220.0,94.6 221.5,95.0 223.0,95.3 224.5,95.7 226.0,96.0 227.5,96.4 229.0,96.7 230.5,97.0 232.0,97.3 233.5,97.6 235.0,97.9 236.5,98.2 238.0,98.5 239.5,98.8 241.0,99.0 242.5,99.3 244.0,99.5 245.5,99.8 247.0,100.0 248.5,100.3 250.0,100.5 251.5,100.7 253.0,101.0 254.5,101.2 256.0,101.4 257.5,101.6 259.0,101.8 260.5,102.1 262.0,102.3 263.5,102.5 265.0,102.7 266.5,102.9 268.0,103.0 269.5,103.2 271.0,103.4 272.5,103.5 274.0,103.7 275.5,103.8 277.0,104.0 278.5,104.1 280.0,104.2 281.5,104.3 283.0,104.4 284.5,104.5 286.0,104.5 287.5,104.6 289.0,104.7 290.5,104.8 292.0,104.8 293.5,104.9 295.0,105.0 296.5,105.0 298.0,105.1 299.5,105.1 301.0,105.2 302.5,105.3 304.0,105.3 305.5,105.4 307.0,105.4 308.5,105.5 310.0,105.5 311.5,105.6 313.0,105.6 314.5,105.7 316.0,105.7 317.5,105.8 319.0,105.8 320.5,105.9 322.0,105.9 323.5,105.9 325.0,106.0 326.5,106.0 328.0,106.0 329.5,106.1 331.0,106.1 332.5,106.1 334.0,106.1 335.5,106.1 337.0,106.2 338.5,106.2 340.0,106.2 341.5,106.2 343.0,106.2 344.5,106.2 346.0,106.2 347.5,106.2 349.0,106.2 350.5,106.1 352.0,106.1 353.5,106.1 355.0,106.0 356.5,105.9 358.0,105.9 359.5,105.8 361.0,105.7 362.5,105.6 364.0,105.5 365.5,105.4 367.0,105.3 368.5,105.2 370.0,105.1 371.5,105.0 373.0,104.9 374.5,104.8 376.0,104.6 377.5,104.5 379.0,104.4 380.5,104.2 382.0,104.1 383.5,104.0 385.0,103.8 386.5,103.7 388.0,103.5 389.5,103.4 391.0,103.3 392.5,103.1 394.0,103.0 395.5,102.9 397.0,102.7 398.5,102.6 400.0,102.5 401.5,102.3 403.0,102.2 404.5,102.1 406.0,102.0 407.5,101.9 409.0,101.7 410.5,101.6 412.0,101.5 413.5,101.4 415.0,101.3 416.5,101.2 418.0,101.1 419.5,100.9 421.0,100.8 422.5,100.7 424.0,100.6 425.5,100.5 427.0,100.3 428.5,100.2 430.0,100.1 431.5,100.0 433.0,99.8 434.5,99.7"/><polyline fill="none" stroke-dashoffset="5.5" points="53.5,181.8 55.0,181.8 56.5,181.7 58.0,181.6 59.5,181.5 61.0,181.5 62.5,181.4 64.0,181.3 65.5,181.3 67.0,181.2 68.5,181.1 70.0,181.1 71.5,181.0 73.0,181.0 74.5,180.9 76.0,180.8 77.5,180.8 79.0,180.7 80.5,180.7 82.0,180.6 83.5,180.6 85.0,180.5 86.5,180.4 88.0,180.4 89.5,180.3 91.0,180.3 92.5,180.2 94.0,180.2 95.5,180.1 97.0,180.1 98.5,180.0 100.0,180.0 101.5,179.9 103.0,179.9 104.5,179.8 106.0,179.8 107.5,179.7 109.0,179.7 110.5,179.6 112.0,179.6 113.5,179.5 115.0,179.5 116.5,179.4 118.0,179.4 119.5,179.3 121.0,179.3 122.5,179.2 124.0,179.2 125.5,179.1 127.0,179.1 128.5,179.0 130.0,179.0 131.5,179.0 133.0,178.9 134.5,178.9 136.0,178.8 137.5,178.8 139.0,178.7 140.5,178.7 142.0,178.6 143.5,178.6 145.0,178.6 146.5,178.5 148.0,178.5 149.5,178.4 151.0,178.4 152.5,178.3 154.0,178.3 155.5,178.3 157.0,178.2 158.5,178.2 160.0,178.1 161.5,178.1 163.0,178.1 164.5,178.0 166.0,178.0 167.5,177.9 169.0,177.9 170.5,177.8 172.0,177.8 173.5,177.8 175.0,177.7 176.5,177.7 178.0,177.6 179.5,177.6 181.0,177.6 182.5,177.5 184.0,177.5 185.5,177.4 187.0,177.4 188.5,177.4 190.0,177.3 191.5,177.3 193.0,177.3 194.5,177.2 196.0,177.2 197.5,177.1 199.0,177.1 200.5,177.1 202.0,177.0 203.5,177.0 205.0,177.0 206.5,176.9 208.0,176.9 209.5,176.8 211.0,176.8 212.5,176.8 214.0,176.7 215.5,176.7 217.0,176.7 218.5,176.6 220.0,176.6 221.5,176.6 223.0,176.5 224.5,176.5 226.0,176.5 227.5,176.4 229.0,176.4 230.5,176.4 232.0,176.4 233.5,176.3 235.0,176.3 236.5,176.3 238.0,176.2 239.5,176.2 241.0,176.2 242.5,176.2 244.0,176.1 245.5,176.1 247.0,176.1 248.5,176.0 250.0,176.0 251.5,176.0 253.0,176.0 254.5,175.9 256.0,175.9 257.5,175.9 259.0,175.9 260.5,175.8 262.0,175.8 263.5,175.8 265.0,175.7 266.5,175.7 268.0,175.7 269.5,175.7 271.0,175.7 272.5,175.6 274.0,175.6 275.5,175.6 277.0,175.6 278.5,175.6 280.0,175.6 281.5,175.6 283.0,175.6 284.5,175.6 286.0,175.6 287.5,175.6 289.0,175.6 290.5,175.6 292.0,175.6 293.5,175.6 295.0,175.6 296.5,175.6 298.0,175.6 299.5,175.6 301.0,175.6 302.5,175.7 304.0,175.7 305.5,175.7 307.0,175.7 308.5,175.7 310.0,175.7 311.5,175.8 313.0,175.8 314.5,175.8 316.0,175.8 317.5,175.8 319.0,175.8 320.5,175.9 322.0,175.9 323.5,175.9 325.0,175.9 326.5,175.9 328.0,176.0 329.5,176.0 331.0,176.0 332.5,176.0 334.0,176.0 335.5,176.0 337.0,176.0 338.5,176.0 340.0,176.0 341.5,176.0 343.0,176.0 344.5,176.0 346.0,176.0 347.5,176.0 349.0,176.0 350.5,176.0 352.0,176.0 353.5,176.0 355.0,176.0 356.5,176.0 358.0,176.0 359.5,176.0 361.0,176.0 362.5,176.0 364.0,176.0 365.5,176.0 367.0,176.0 368.5,176.0 370.0,176.0 371.5,176.0 373.0,176.0 374.5,176.0 376.0,176.0 377.5,176.0 379.0,176.0 380.5,176.0 382.0,176.0 383.5,176.0 385.0,176.0 386.5,176.0 388.0,176.0 389.5,176.0 391.0,176.0 392.5,176.0 394.0,176.0 395.5,176.0 397.0,176.0 398.5,176.0 400.0,176.0 401.5,176.0 403.0,176.0 404.5,176.0 406.0,176.0 407.5,176.0 409.0,176.0 410.5,176.0 412.0,176.0 413.5,176.0 415.0,176.0 416.5,176.0 418.0,176.0 419.5,176.0 421.0,176.0 422.5,176.0 424.0,176.0 425.5,176.0 427.0,176.1 428.5,176.1 430.0,176.1 431.5,176.1 433.0,176.1 434.5,176.1"/><polyline fill="none" stroke-dashoffset="5.9" points="53.5,207.7 55.0,207.5 56.5,207.3 58.0,207.1 59.5,206.9 61.0,206.7 62.5,206.5 64.0,206.3 65.5,206.1 67.0,205.9 68.5,205.7 70.0,205.5 71.5,205.3 73.0,205.2 74.5,205.0 76.0,204.8 77.5,204.6 79.0,204.4 80.5,204.2 82.0,204.0 83.5,203.8 85.0,203.6 86.5,203.4 88.0,203.2 89.5,203.0 91.0,202.8 92.5,202.6 94.0,202.4 95.5,202.2 97.0,202.0 98.5,201.8 100.0,201.6 101.5,201.3 103.0,201.1 104.5,200.9 106.0,200.7 107.5,200.5 109.0,200.3 110.5,200.1 112.0,199.9 113.5,199.7 115.0,199.5 116.5,199.3 118.0,199.1 119.5,198.9 121.0,198.7 122.5,198.5 124.0,198.3 125.5,198.1 127.0,197.9 128.5,197.7 130.0,197.6 131.5,197.4 133.0,197.2 134.5,197.0 136.0,196.8 137.5,196.6 139.0,196.5 140.5,196.3 142.0,196.1 143.5,195.9 145.0,195.8 146.5,195.6 148.0,195.5 149.5,195.3 151.0,195.1 152.5,195.0 154.0,194.8 155.5,194.7 157.0,194.6 158.5,194.4 160.0,194.3 161.5,194.2 163.0,194.0 164.5,193.9 166.0,193.7 167.5,193.6 169.0,193.5 170.5,193.3 172.0,193.2 173.5,193.1 175.0,193.0 176.5,192.8 178.0,192.7 179.5,192.6 181.0,192.4 182.5,192.3 184.0,192.2 185.5,192.1 187.0,191.9 188.5,191.8 190.0,191.7 191.5,191.6 193.0,191.5 194.5,191.3 196.0,191.2 197.5,191.1 199.0,191.0 200.5,190.9 202.0,190.8 203.5,190.7 205.0,190.6 206.5,190.5 208.0,190.3 209.5,190.2 211.0,190.1 212.5,190.0 214.0,189.9 215.5,189.8 217.0,189.7 218.5,189.6 220.0,189.5 221.5,189.5 223.0,189.4 224.5,189.3 226.0,189.2 227.5,189.1 229.0,189.0 230.5,188.9 232.0,188.9 233.5,188.8 235.0,188.7 236.5,188.6 238.0,188.5 239.5,188.5 241.0,188.4 242.5,188.3 244.0,188.3 245.5,188.2 247.0,188.1 248.5,188.1 250.0,188.0 251.5,187.9 253.0,187.9 254.5,187.8 256.0,187.7 257.5,187.7 259.0,187.6 260.5,187.6 262.0,187.5 263.5,187.4 265.0,187.4 266.5,187.3 268.0,187.3 269.5,187.2 271.0,187.2 272.5,187.1 274.0,187.1 275.5,187.1 277.0,187.0 278.5,187.0 280.0,187.0 281.5,187.0 283.0,187.0 284.5,187.0 286.0,187.0 287.5,187.0 289.0,187.0 290.5,187.0 292.0,187.0 293.5,187.0 295.0,187.0 296.5,187.0 298.0,187.0 299.5,187.0 301.0,187.0 302.5,187.0 304.0,187.0 305.5,187.0 307.0,187.0 308.5,187.1 310.0,187.1 311.5,187.1 313.0,187.1 314.5,187.1 316.0,187.1 317.5,187.1 319.0,187.1 320.5,187.2 322.0,187.2 323.5,187.2 325.0,187.2 326.5,187.2 328.0,187.2 329.5,187.2 331.0,187.3 332.5,187.3 334.0,187.3 335.5,187.3 337.0,187.3 338.5,187.3 340.0,187.4 341.5,187.4 343.0,187.4 344.5,187.4 346.0,187.4 347.5,187.4 349.0,187.4 350.5,187.5 352.0,187.5 353.5,187.5 355.0,187.5 356.5,187.5 358.0,187.5 359.5,187.5 361.0,187.6 362.5,187.6 364.0,187.6 365.5,187.6 367.0,187.6 368.5,187.6 370.0,187.6 371.5,187.7 373.0,187.7 374.5,187.7 376.0,187.7 377.5,187.7 379.0,187.7 380.5,187.8 382.0,187.8 383.5,187.8 385.0,187.8 386.5,187.8 388.0,187.9 389.5,187.9 391.0,187.9 392.5,187.9 394.0,187.9 395.5,187.9 397.0,188.0 398.5,188.0 400.0,188.0 401.5,188.0 403.0,188.0 404.5,188.1 406.0,188.1 407.5,188.1 409.0,188.1 410.5,188.2 412.0,188.2 413.5,188.2 415.0,188.2 416.5,188.2 418.0,188.3 419.5,188.3 421.0,188.3 422.5,188.3 424.0,188.4 425.5,188.4 427.0,188.4 428.5,188.5 430.0,188.5 431.5,188.5 433.0,188.5 434.5,188.6"/><polyline fill="none" stroke-dashoffset="6.3" points="53.5,231.4 55.0,231.1 56.5,230.8 58.0,230.5 59.5,230.2 61.0,229.9 62.5,229.6 64.0,229.3 65.5,229.0 67.0,228.7 68.5,228.4 70.0,228.1 71.5,227.8 73.0,227.5 74.5,227.2 76.0,226.9 77.5,226.6 79.0,226.3 80.5,226.0 82.0,225.7 83.5,225.4 85.0,225.1 86.5,224.8 88.0,224.5 89.5,224.1 91.0,223.8 92.5,223.5 94.0,223.2 95.5,222.8 97.0,222.5 98.5,222.2 100.0,221.9 101.5,221.5 103.0,221.2 104.5,220.9 106.0,220.5 107.5,220.2 109.0,219.9 110.5,219.5 112.0,219.2 113.5,218.9 115.0,218.6 116.5,218.2 118.0,217.9 119.5,217.6 121.0,217.3 122.5,217.0 124.0,216.6 125.5,216.3 127.0,216.0 128.5,215.7 130.0,215.4 131.5,215.1 133.0,214.8 134.5,214.5 136.0,214.2 137.5,213.9 139.0,213.6 140.5,213.3 142.0,213.0 143.5,212.7 145.0,212.5 146.5,212.2 148.0,211.9 149.5,211.7 151.0,211.4 152.5,211.1 154.0,210.9 155.5,210.6 157.0,210.4 158.5,210.2 160.0,209.9 161.5,209.7 163.0,209.5 164.5,209.2 166.0,209.0 167.5,208.8 169.0,208.5 170.5,208.3 172.0,208.1 173.5,207.8 175.0,207.6 176.5,207.4 178.0,207.2 179.5,206.9 181.0,206.7 182.5,206.5 184.0,206.2 185.5,206.0 187.0,205.8 188.5,205.6 190.0,205.4 191.5,205.1 193.0,204.9 194.5,204.7 196.0,204.5 197.5,204.3 199.0,204.1 200.5,203.9 202.0,203.7 203.5,203.5 205.0,203.3 206.5,203.1 208.0,202.9 209.5,202.7 211.0,202.5 212.5,202.3 214.0,202.2 215.5,202.0 217.0,201.8 218.5,201.6 220.0,201.5 221.5,201.3 223.0,201.2 224.5,201.0 226.0,200.9 227.5,200.7 229.0,200.6 230.5,200.4 232.0,200.3 233.5,200.2 235.0,200.0 236.5,199.9 238.0,199.8 239.5,199.7 241.0,199.6 242.5,199.5 244.0,199.4 245.5,199.3 247.0,199.2 248.5,199.1 250.0,199.1 251.5,199.0 253.0,198.9 254.5,198.8 256.0,198.7 257.5,198.7 259.0,198.6 260.5,198.5 262.0,198.4 263.5,198.4 265.0,198.3 266.5,198.2 268.0,198.2 269.5,198.1 271.0,198.1 272.5,198.0 274.0,198.0 275.5,197.9 277.0,197.9 278.5,197.8 280.0,197.8 281.5,197.8 283.0,197.7 284.5,197.7 286.0,197.7 287.5,197.7 289.0,197.6 290.5,197.6 292.0,197.6 293.5,197.6 295.0,197.5 296.5,197.5 298.0,197.5 299.5,197.5 301.0,197.5 302.5,197.4 304.0,197.4 305.5,197.4 307.0,197.4 308.5,197.4 310.0,197.3 311.5,197.3 313.0,197.3 314.5,197.3 316.0,197.3 317.5,197.2 319.0,197.2 320.5,197.2 322.0,197.2 323.5,197.2 325.0,197.2 326.5,197.2 328.0,197.2 329.5,197.1 331.0,197.1 332.5,197.1 334.0,197.1 335.5,197.1 337.0,197.1 338.5,197.1 340.0,197.1 341.5,197.1 343.0,197.1 344.5,197.1 346.0,197.1 347.5,197.1 349.0,197.1 350.5,197.1 352.0,197.1 353.5,197.2 355.0,197.2 356.5,197.2 358.0,197.2 359.5,197.3 361.0,197.3 362.5,197.3 364.0,197.4 365.5,197.4 367.0,197.4 368.5,197.5 370.0,197.5 371.5,197.6 373.0,197.6 374.5,197.7 376.0,197.7 377.5,197.8 379.0,197.8 380.5,197.9 382.0,197.9 383.5,198.0 385.0,198.0 386.5,198.1 388.0,198.1 389.5,198.2 391.0,198.2 392.5,198.3 394.0,198.4 395.5,198.4 397.0,198.5 398.5,198.5 400.0,198.6 401.5,198.6 403.0,198.7 404.5,198.7 406.0,198.8 407.5,198.8 409.0,198.9 410.5,198.9 412.0,199.0 413.5,199.0 415.0,199.1 416.5,199.1 418.0,199.2 419.5,199.2 421.0,199.3 422.5,199.3 424.0,199.4 425.5,199.4 427.0,199.5 428.5,199.5 430.0,199.6 431.5,199.6 433.0,199.7 434.5,199.7"/><polyline fill="none" stroke-dashoffset="6.7" points="53.5,255.1 55.0,254.6 56.5,254.2 58.0,253.8 59.5,253.3 61.0,252.9 62.5,252.5 64.0,252.0 65.5,251.6 67.0,251.2 68.5,250.7 70.0,250.3 71.5,249.9 73.0,249.4 74.5,249.0 76.0,248.6 77.5,248.1 79.0,247.7 80.5,247.2 82.0,246.8 83.5,246.3 85.0,245.9 86.5,245.4 88.0,245.0 89.5,244.5 91.0,244.0 92.5,243.6 94.0,243.1 95.5,242.6 97.0,242.2 98.5,241.7 100.0,241.2 101.5,240.7 103.0,240.3 104.5,239.8 106.0,239.3 107.5,238.8 109.0,238.4 110.5,237.9 112.0,237.4 113.5,236.9 115.0,236.5 116.5,236.0 118.0,235.5 119.5,235.1 121.0,234.6 122.5,234.1 124.0,233.7 125.5,233.2 127.0,232.8 128.5,232.3 130.0,231.9 131.5,231.5 133.0,231.0 134.5,230.6 136.0,230.2 137.5,229.7 139.0,229.3 140.5,228.9 142.0,228.5 143.5,228.1 145.0,227.7 146.5,227.3 148.0,227.0 149.5,226.6 151.0,226.2 152.5,225.9 154.0,225.5 155.5,225.2 157.0,224.9 158.5,224.5 160.0,224.2 161.5,223.9 163.0,223.6 164.5,223.2 166.0,222.9 167.5,222.6 169.0,222.3 170.5,222.0 172.0,221.7 173.5,221.3 175.0,221.0 176.5,220.7 178.0,220.4 179.5,220.1 181.0,219.8 182.5,219.5 184.0,219.2 185.5,218.9 187.0,218.6 188.5,218.3 190.0,218.1 191.5,217.8 193.0,217.5 194.5,217.2 196.0,216.9 197.5,216.6 199.0,216.4 200.5,216.1 202.0,215.8 203.5,215.6 205.0,215.3 206.5,215.1 208.0,214.8 209.5,214.6 211.0,214.3 212.5,214.1 214.0,213.8 215.5,213.6 217.0,213.3 218.5,213.1 220.0,212.9 221.5,212.7 223.0,212.5 224.5,212.2 226.0,212.0 227.5,211.8 229.0,211.6 230.5,211.4 232.0,211.2 233.5,211.0 235.0,210.9 236.5,210.7 238.0,210.5 239.5,210.3 241.0,210.2 242.5,210.0 244.0,209.9 245.5,209.7 247.0,209.6 248.5,209.4 250.0,209.3 251.5,209.1 253.0,209.0 254.5,208.8 256.0,208.6 257.5,208.5 259.0,208.4 260.5,208.2 262.0,208.1 263.5,207.9 265.0,207.8 266.5,207.7 268.0,207.5 269.5,207.4 271.0,207.3 272.5,207.2 274.0,207.1 275.5,207.1 277.0,207.0 278.5,206.9 280.0,206.9 281.5,206.8 283.0,206.8 284.5,206.8 286.0,206.8 287.5,206.8 289.0,206.8 290.5,206.8 292.0,206.8 293.5,206.8 295.0,206.8 296.5,206.8 298.0,206.8 299.5,206.8 301.0,206.8 302.5,206.8 304.0,206.8 305.5,206.8 307.0,206.8 308.5,206.8 310.0,206.8 311.5,206.8 313.0,206.8 314.5,206.8 316.0,206.8 317.5,206.8 319.0,206.8 320.5,206.8 322.0,206.8 323.5,206.8 325.0,206.8 326.5,206.8 328.0,206.8 329.5,206.8 331.0,206.8 332.5,206.8 334.0,206.8 335.5,206.8 337.0,206.8 338.5,206.8 340.0,206.8 341.5,206.8 343.0,206.8 344.5,206.8 346.0,206.8 347.5,206.8 349.0,206.8 350.5,206.8 352.0,206.9 353.5,206.9 355.0,206.9 356.5,206.9 358.0,207.0 359.5,207.0 361.0,207.1 362.5,207.1 364.0,207.1 365.5,207.2 367.0,207.3 368.5,207.3 370.0,207.4 371.5,207.4 373.0,207.5 374.5,207.6 376.0,207.6 377.5,207.7 379.0,207.8 380.5,207.8 382.0,207.9 383.5,208.0 385.0,208.1 386.5,208.1 388.0,208.2 389.5,208.3 391.0,208.4 392.5,208.4 394.0,208.5 395.5,208.6 397.0,208.7 398.5,208.7 400.0,208.8 401.5,208.9 403.0,208.9 404.5,209.0 406.0,209.1 407.5,209.1 409.0,209.2 410.5,209.2 412.0,209.3 413.5,209.4 415.0,209.4 416.5,209.5 418.0,209.6 419.5,209.6 421.0,209.7 422.5,209.8 424.0,209.8 425.5,209.9 427.0,210.0 428.5,210.0 430.0,210.1 431.5,210.2 433.0,210.3 434.5,210.3"/><polyline fill="none" stroke-dashoffset="7.1" points="62.5,274.6 64.0,274.0 65.5,273.5 67.0,272.9 68.5,272.3 70.0,271.8 71.5,271.2 73.0,270.6 74.5,270.0 76.0,269.4 77.5,268.9 79.0,268.3 80.5,267.7 82.0,267.1 83.5,266.5 85.0,265.9 86.5,265.3 88.0,264.6 89.5,264.0 91.0,263.4 92.5,262.7 94.0,262.1 95.5,261.5 97.0,260.8 98.5,260.2 100.0,259.5 101.5,258.9 103.0,258.2 104.5,257.6 106.0,256.9 107.5,256.3 109.0,255.6 110.5,255.0 112.0,254.3 113.5,253.7 115.0,253.1 116.5,252.4 118.0,251.8 119.5,251.2 121.0,250.5 122.5,249.9 124.0,249.3 125.5,248.7 127.0,248.1 128.5,247.4 130.0,246.8 131.5,246.3 133.0,245.7 134.5,245.1 136.0,244.5 137.5,244.0 139.0,243.4 140.5,242.9 142.0,242.3 143.5,241.8 145.0,241.3 146.5,240.8 148.0,240.3 149.5,239.8 151.0,239.3 152.5,238.9 154.0,238.4 155.5,238.0 157.0,237.6 158.5,237.2 160.0,236.8 161.5,236.4 163.0,236.0 164.5,235.6 166.0,235.2 167.5,234.8 169.0,234.4 170.5,234.0 172.0,233.6 173.5,233.2 175.0,232.9 176.5,232.5 178.0,232.1 179.5,231.7 181.0,231.4 182.5,231.0 184.0,230.6 185.5,230.3 187.0,229.9 188.5,229.6 190.0,229.2 191.5,228.9 193.0,228.5 194.5,228.2 196.0,227.8 197.5,227.5 199.0,227.2 200.5,226.9 202.0,226.5 203.5,226.2 205.0,225.9 206.5,225.6 208.0,225.3 209.5,225.0 211.0,224.7 212.5,224.4 214.0,224.1 215.5,223.9 217.0,223.6 218.5,223.3 220.0,223.0 221.5,222.8 223.0,222.5 224.5,222.3 226.0,222.0 227.5,221.8 229.0,221.6 230.5,221.3 232.0,221.1 233.5,220.9 235.0,220.7 236.5,220.5 238.0,220.3 239.5,220.1 241.0,219.9 242.5,219.7 244.0,219.6 245.5,219.4 247.0,219.2 248.5,219.1 250.0,218.9 251.5,218.8 253.0,218.6 254.5,218.5 256.0,218.3 257.5,218.2 259.0,218.0 260.5,217.9 262.0,217.7 263.5,217.6 265.0,217.5 266.5,217.4 268.0,217.2 269.5,217.1 271.0,217.0 272.5,216.9 274.0,216.8 275.5,216.7 277.0,216.6 278.5,216.5 280.0,216.5 281.5,216.4 283.0,216.4 284.5,216.3 286.0,216.3 287.5,216.2 289.0,216.2 290.5,216.2 292.0,216.1 293.5,216.1 295.0,216.0 296.5,216.0 298.0,216.0 299.5,215.9 301.0,215.9 302.5,215.9 304.0,215.9 305.5,215.8 307.0,215.8 308.5,215.8 310.0,215.7 311.5,215.7 313.0,215.7 314.5,215.7 316.0,215.6 317.5,215.6 319.0,215.6 320.5,215.6 322.0,215.6 323.5,215.5 325.0,215.5 326.5,215.5 328.0,215.5 329.5,215.5 331.0,215.5 332.5,215.4 334.0,215.4 335.5,215.4 337.0,215.4 338.5,215.4 340.0,215.4 341.5,215.4 343.0,215.4 344.5,215.4 346.0,215.4 347.5,215.4 349.0,215.4 350.5,215.4 352.0,215.5 353.5,215.5 355.0,215.6 356.5,215.6 358.0,215.6 359.5,215.7 361.0,215.8 362.5,215.8 364.0,215.9 365.5,216.0 367.0,216.1 368.5,216.1 370.0,216.2 371.5,216.3 373.0,216.4 374.5,216.5 376.0,216.6 377.5,216.7 379.0,216.8 380.5,216.9 382.0,217.0 383.5,217.1 385.0,217.2 386.5,217.3 388.0,217.4 389.5,217.5 391.0,217.6 392.5,217.7 394.0,217.8 395.5,217.9 397.0,218.0 398.5,218.1 400.0,218.2 401.5,218.3 403.0,218.4 404.5,218.5 406.0,218.5 407.5,218.6 409.0,218.7 410.5,218.8 412.0,218.9 413.5,219.0 415.0,219.0 416.5,219.1 418.0,219.2 419.5,219.3 421.0,219.4 422.5,219.4 424.0,219.5 425.5,219.6 427.0,219.7 428.5,219.8 430.0,219.9 431.5,219.9 433.0,220.0 434.5,220.1"/><polyline fill="none" stroke-dashoffset="7.5" points="104.5,274.8 106.0,274.0 107.5,273.2 109.0,272.4 110.5,271.7 112.0,270.9 113.5,270.1 115.0,269.3 116.5,268.5 118.0,267.7 119.5,267.0 121.0,266.2 122.5,265.4 124.0,264.7 125.5,263.9 127.0,263.2 128.5,262.5 130.0,261.7 131.5,261.0 133.0,260.3 134.5,259.6 136.0,258.9 137.5,258.2 139.0,257.6 140.5,256.9 142.0,256.3 143.5,255.6 145.0,255.0 146.5,254.4 148.0,253.8 149.5,253.2 151.0,252.6 152.5,252.1 154.0,251.6 155.5,251.0 157.0,250.5 158.5,250.0 160.0,249.6 161.5,249.1 163.0,248.6 164.5,248.1 166.0,247.6 167.5,247.2 169.0,246.7 170.5,246.2 172.0,245.8 173.5,245.3 175.0,244.9 176.5,244.4 178.0,244.0 179.5,243.5 181.0,243.1 182.5,242.6 184.0,242.2 185.5,241.8 187.0,241.4 188.5,240.9 190.0,240.5 191.5,240.1 193.0,239.7 194.5,239.3 196.0,238.9 197.5,238.5 199.0,238.1 200.5,237.7 202.0,237.3 203.5,237.0 205.0,236.6 206.5,236.2 208.0,235.9 209.5,235.5 211.0,235.2 212.5,234.8 214.0,234.5 215.5,234.1 217.0,233.8 218.5,233.5 220.0,233.2 221.5,232.9 223.0,232.6 224.5,232.3 226.0,232.0 227.5,231.7 229.0,231.4 230.5,231.1 232.0,230.9 233.5,230.6 235.0,230.4 236.5,230.1 238.0,229.9 239.5,229.7 241.0,229.4 242.5,229.2 244.0,229.0 245.5,228.8 247.0,228.6 248.5,228.4 250.0,228.2 251.5,228.0 253.0,227.8 254.5,227.7 256.0,227.5 257.5,227.3 259.0,227.1 260.5,226.9 262.0,226.8 263.5,226.6 265.0,226.4 266.5,226.3 268.0,226.1 269.5,226.0 271.0,225.9 272.5,225.7 274.0,225.6 275.5,225.5 277.0,225.4 278.5,225.3 280.0,225.2 281.5,225.1 283.0,225.1 284.5,225.0 286.0,225.0 287.5,224.9 289.0,224.9 290.5,224.8 292.0,224.8 293.5,224.8 295.0,224.7 296.5,224.7 298.0,224.6 299.5,224.6 301.0,224.6 302.5,224.5 304.0,224.5 305.5,224.5 307.0,224.4 308.5,224.4 310.0,224.4 311.5,224.3 313.0,224.3 314.5,224.3 316.0,224.3 317.5,224.2 319.0,224.2 320.5,224.2 322.0,224.2 323.5,224.1 325.0,224.1 326.5,224.1 328.0,224.1 329.5,224.1 331.0,224.1 332.5,224.1 334.0,224.0 335.5,224.0 337.0,224.0 338.5,224.0 340.0,224.0 341.5,224.0 343.0,224.0 344.5,224.0 346.0,224.0 347.5,224.0 349.0,224.0 350.5,224.1 352.0,224.1 353.5,224.1 355.0,224.2 356.5,224.3 358.0,224.3 359.5,224.4 361.0,224.5 362.5,224.6 364.0,224.6 365.5,224.7 367.0,224.8 368.5,224.9 370.0,225.1 371.5,225.2 373.0,225.3 374.5,225.4 376.0,225.5 377.5,225.6 379.0,225.8 380.5,225.9 382.0,226.0 383.5,226.2 385.0,226.3 386.5,226.4 388.0,226.6 389.5,226.7 391.0,226.8 392.5,227.0 394.0,227.1 395.5,227.2 397.0,227.3 398.5,227.5 400.0,227.6 401.5,227.7 403.0,227.8 404.5,227.9 406.0,228.0 407.5,228.1 409.0,228.2 410.5,228.3 412.0,228.4 413.5,228.5 415.0,228.6 416.5,228.7 418.0,228.9 419.5,229.0 421.0,229.1 422.5,229.2 424.0,229.3 425.5,229.4 427.0,229.5 428.5,229.6 430.0,229.7 431.5,229.8 433.0,229.9 434.5,230.0"/><polyline fill="none" stroke-dashoffset="7.9" points="133.0,274.5 134.5,273.7 136.0,272.8 137.5,272.1 139.0,271.3 140.5,270.5 142.0,269.7 143.5,269.0 145.0,268.3 146.5,267.6 148.0,266.9 149.5,266.2 151.0,265.5 152.5,264.9 154.0,264.3 155.5,263.7 157.0,263.1 158.5,262.5 160.0,261.9 161.5,261.4 163.0,260.8 164.5,260.3 166.0,259.7 167.5,259.2 169.0,258.6 170.5,258.1 172.0,257.5 173.5,257.0 175.0,256.5 176.5,256.0 178.0,255.5 179.5,254.9 181.0,254.4 182.5,253.9 184.0,253.4 185.5,252.9 187.0,252.4 188.5,251.9 190.0,251.5 191.5,251.0 193.0,250.5 194.5,250.1 196.0,249.6 197.5,249.1 199.0,248.7 200.5,248.2 202.0,247.8 203.5,247.4 205.0,246.9 206.5,246.5 208.0,246.1 209.5,245.7 211.0,245.3 212.5,244.9 214.0,244.5 215.5,244.1 217.0,243.7 218.5,243.3 220.0,243.0 221.5,242.6 223.0,242.3 224.5,241.9 226.0,241.6 227.5,241.2 229.0,240.9 230.5,240.6 232.0,240.3 233.5,240.0 235.0,239.7 236.5,239.4 238.0,239.1 239.5,238.8 241.0,238.6 242.5,238.3 244.0,238.1 245.5,237.8 247.0,237.6 248.5,237.3 250.0,237.1 251.5,236.9 253.0,236.6 254.5,236.4 256.0,236.2 257.5,236.0 259.0,235.8 260.5,235.5 262.0,235.3 263.5,235.1 265.0,234.9 266.5,234.7 268.0,234.6 269.5,234.4 271.0,234.2 272.5,234.1 274.0,233.9 275.5,233.8 277.0,233.6 278.5,233.5 280.0,233.4 281.5,233.3 283.0,233.2 284.5,233.1 286.0,233.1 287.5,233.0 289.0,232.9 290.5,232.8 292.0,232.8 293.5,232.7 295.0,232.6 296.5,232.6 298.0,232.5 299.5,232.5 301.0,232.4 302.5,232.3 304.0,232.3 305.5,232.2 307.0,232.2 308.5,232.1 310.0,232.1 311.5,232.0 313.0,232.0 314.5,231.9 316.0,231.9 317.5,231.8 319.0,231.8 320.5,231.7 322.0,231.7 323.5,231.7 325.0,231.6 326.5,231.6 328.0,231.6 329.5,231.5 331.0,231.5 332.5,231.5 334.0,231.5 335.5,231.5 337.0,231.4 338.5,231.4 340.0,231.4 341.5,231.4 343.0,231.4 344.5,231.4 346.0,231.4 347.5,231.4 349.0,231.4 350.5,231.5 352.0,231.5 353.5,231.5 355.0,231.6 356.5,231.7 358.0,231.7 359.5,231.8 361.0,231.9 362.5,232.0 364.0,232.1 365.5,232.2 367.0,232.3 368.5,232.4 370.0,232.5 371.5,232.6 373.0,232.7 374.5,232.8 376.0,233.0 377.5,233.1 379.0,233.2 380.5,233.4 382.0,233.5 383.5,233.6 385.0,233.8 386.5,233.9 388.0,234.1 389.5,234.2 391.0,234.3 392.5,234.5 394.0,234.6 395.5,234.7 397.0,234.9 398.5,235.0 400.0,235.1 401.5,235.3 403.0,235.4 404.5,235.5 406.0,235.6 407.5,235.7 409.0,235.9 410.5,236.0 412.0,236.1 413.5,236.2 415.0,236.3 416.5,236.4 418.0,236.5 419.5,236.7 421.0,236.8 422.5,236.9 424.0,237.0 425.5,237.1 427.0,237.3 428.5,237.4 430.0,237.5 431.5,237.6 433.0,237.8 434.5,237.9"/><polyline fill="none" stroke-dashoffset="0.2" points="158.5,275.0 160.0,274.3 161.5,273.7 163.0,273.0 164.5,272.4 166.0,271.8 167.5,271.2 169.0,270.5 170.5,269.9 172.0,269.3 173.5,268.7 175.0,268.1 176.5,267.5 178.0,266.9 179.5,266.4 181.0,265.8 182.5,265.2 184.0,264.6 185.5,264.1 187.0,263.5 188.5,263.0 190.0,262.4 191.5,261.9 193.0,261.3 194.5,260.8 196.0,260.3 197.5,259.8 199.0,259.3 200.5,258.8 202.0,258.3 203.5,257.8 205.0,257.3 206.5,256.8 208.0,256.3 209.5,255.9 211.0,255.4 212.5,254.9 214.0,254.5 215.5,254.1 217.0,253.6 218.5,253.2 220.0,252.8 221.5,252.4 223.0,252.0 224.5,251.6 226.0,251.2 227.5,250.8 229.0,250.4 230.5,250.1 232.0,249.7 233.5,249.3 235.0,249.0 236.5,248.7 238.0,248.3 239.5,248.0 241.0,247.7 242.5,247.4 244.0,247.1 245.5,246.8 247.0,246.5 248.5,246.3 250.0,246.0 251.5,245.7 253.0,245.4 254.5,245.2 256.0,244.9 257.5,244.6 259.0,244.4 260.5,244.1 262.0,243.9 263.5,243.6 265.0,243.4 266.5,243.2 268.0,242.9 269.5,242.7 271.0,242.5 272.5,242.3 274.0,242.2 275.5,242.0 277.0,241.8 278.5,241.7 280.0,241.5 281.5,241.4 283.0,241.3 284.5,241.2 286.0,241.1 287.5,241.1 289.0,241.0 290.5,240.9 292.0,240.8 293.5,240.8 295.0,240.7 296.5,240.6 298.0,240.5 299.5,240.5 301.0,240.4 302.5,240.3 304.0,240.3 305.5,240.2 307.0,240.1 308.5,240.1 310.0,240.0 311.5,240.0 313.0,239.9 314.5,239.9 316.0,239.8 317.5,239.8 319.0,239.7 320.5,239.7 322.0,239.6 323.5,239.6 325.0,239.6 326.5,239.5 328.0,239.5 329.5,239.5 331.0,239.4 332.5,239.4 334.0,239.4 335.5,239.4 337.0,239.3 338.5,239.3 340.0,239.3 341.5,239.3 343.0,239.3 344.5,239.3 346.0,239.3 347.5,239.3 349.0,239.3 350.5,239.4 352.0,239.4 353.5,239.4 355.0,239.5 356.5,239.5 358.0,239.6 359.5,239.6 361.0,239.7 362.5,239.8 364.0,239.9 365.5,239.9 367.0,240.0 368.5,240.1 370.0,240.2 371.5,240.3 373.0,240.4 374.5,240.5 376.0,240.6 377.5,240.7 379.0,240.9 380.5,241.0 382.0,241.1 383.5,241.2 385.0,241.3 386.5,241.5 388.0,241.6 389.5,241.7 391.0,241.8 392.5,242.0 394.0,242.1 395.5,242.2 397.0,242.3 398.5,242.4 400.0,242.6 401.5,242.7 403.0,242.8 404.5,242.9 406.0,243.0 407.5,243.1 409.0,243.2 410.5,243.4 412.0,243.5 413.5,243.6 415.0,243.7 416.5,243.8 418.0,244.0 419.5,244.1 421.0,244.2 422.5,244.4 424.0,244.5 425.5,244.6 427.0,244.8 428.5,244.9 430.0,245.0 431.5,245.2 433.0,245.3 434.5,245.5"/></g>
<rect x="52.0" y="61.5" width="384.0" height="216.0" fill="none" stroke="#000" stroke-width="1.1"/><path d="M52.00,277.5v-9.0M52.00,61.5v9.0M61.60,277.5v-4.6M61.60,61.5v4.6M71.20,277.5v-4.6M71.20,61.5v4.6M80.80,277.5v-4.6M80.80,61.5v4.6M90.40,277.5v-4.6M90.40,61.5v4.6M100.00,277.5v-4.6M100.00,61.5v4.6M109.60,277.5v-4.6M109.60,61.5v4.6M119.20,277.5v-4.6M119.20,61.5v4.6M128.80,277.5v-4.6M128.80,61.5v4.6M138.40,277.5v-4.6M138.40,61.5v4.6M148.00,277.5v-9.0M148.00,61.5v9.0M157.60,277.5v-4.6M157.60,61.5v4.6M167.20,277.5v-4.6M167.20,61.5v4.6M176.80,277.5v-4.6M176.80,61.5v4.6M186.40,277.5v-4.6M186.40,61.5v4.6M196.00,277.5v-4.6M196.00,61.5v4.6M205.60,277.5v-4.6M205.60,61.5v4.6M215.20,277.5v-4.6M215.20,61.5v4.6M224.80,277.5v-4.6M224.80,61.5v4.6M234.40,277.5v-4.6M234.40,61.5v4.6M244.00,277.5v-9.0M244.00,61.5v9.0M253.60,277.5v-4.6M253.60,61.5v4.6M263.20,277.5v-4.6M263.20,61.5v4.6M272.80,277.5v-4.6M272.80,61.5v4.6M282.40,277.5v-4.6M282.40,61.5v4.6M292.00,277.5v-4.6M292.00,61.5v4.6M301.60,277.5v-4.6M301.60,61.5v4.6M311.20,277.5v-4.6M311.20,61.5v4.6M320.80,277.5v-4.6M320.80,61.5v4.6M330.40,277.5v-4.6M330.40,61.5v4.6M340.00,277.5v-9.0M340.00,61.5v9.0M349.60,277.5v-4.6M349.60,61.5v4.6M359.20,277.5v-4.6M359.20,61.5v4.6M368.80,277.5v-4.6M368.80,61.5v4.6M378.40,277.5v-4.6M378.40,61.5v4.6M388.00,277.5v-4.6M388.00,61.5v4.6M397.60,277.5v-4.6M397.60,61.5v4.6M407.20,277.5v-4.6M407.20,61.5v4.6M416.80,277.5v-4.6M416.80,61.5v4.6M426.40,277.5v-4.6M426.40,61.5v4.6M436.00,277.5v-9.0M436.00,61.5v9.0M52.0,277.50h8.0M436.0,277.50h-8.0M52.0,273.90h3.6M436.0,273.90h-3.6M52.0,270.30h3.6M436.0,270.30h-3.6M52.0,266.70h3.6M436.0,266.70h-3.6M52.0,263.10h3.6M436.0,263.10h-3.6M52.0,259.50h3.6M436.0,259.50h-3.6M52.0,255.90h3.6M436.0,255.90h-3.6M52.0,252.30h3.6M436.0,252.30h-3.6M52.0,248.70h3.6M436.0,248.70h-3.6M52.0,245.10h3.6M436.0,245.10h-3.6M52.0,241.50h8.0M436.0,241.50h-8.0M52.0,237.90h3.6M436.0,237.90h-3.6M52.0,234.30h3.6M436.0,234.30h-3.6M52.0,230.70h3.6M436.0,230.70h-3.6M52.0,227.10h3.6M436.0,227.10h-3.6M52.0,223.50h3.6M436.0,223.50h-3.6M52.0,219.90h3.6M436.0,219.90h-3.6M52.0,216.30h3.6M436.0,216.30h-3.6M52.0,212.70h3.6M436.0,212.70h-3.6M52.0,209.10h3.6M436.0,209.10h-3.6M52.0,205.50h8.0M436.0,205.50h-8.0M52.0,201.90h3.6M436.0,201.90h-3.6M52.0,198.30h3.6M436.0,198.30h-3.6M52.0,194.70h3.6M436.0,194.70h-3.6M52.0,191.10h3.6M436.0,191.10h-3.6M52.0,187.50h3.6M436.0,187.50h-3.6M52.0,183.90h3.6M436.0,183.90h-3.6M52.0,180.30h3.6M436.0,180.30h-3.6M52.0,176.70h3.6M436.0,176.70h-3.6M52.0,173.10h3.6M436.0,173.10h-3.6M52.0,169.50h8.0M436.0,169.50h-8.0M52.0,165.90h3.6M436.0,165.90h-3.6M52.0,162.30h3.6M436.0,162.30h-3.6M52.0,158.70h3.6M436.0,158.70h-3.6M52.0,155.10h3.6M436.0,155.10h-3.6M52.0,151.50h3.6M436.0,151.50h-3.6M52.0,147.90h3.6M436.0,147.90h-3.6M52.0,144.30h3.6M436.0,144.30h-3.6M52.0,140.70h3.6M436.0,140.70h-3.6M52.0,137.10h3.6M436.0,137.10h-3.6M52.0,133.50h8.0M436.0,133.50h-8.0M52.0,129.90h3.6M436.0,129.90h-3.6M52.0,126.30h3.6M436.0,126.30h-3.6M52.0,122.70h3.6M436.0,122.70h-3.6M52.0,119.10h3.6M436.0,119.10h-3.6M52.0,115.50h3.6M436.0,115.50h-3.6M52.0,111.90h3.6M436.0,111.90h-3.6M52.0,108.30h3.6M436.0,108.30h-3.6M52.0,104.70h3.6M436.0,104.70h-3.6M52.0,101.10h3.6M436.0,101.10h-3.6M52.0,97.50h8.0M436.0,97.50h-8.0M52.0,93.90h3.6M436.0,93.90h-3.6M52.0,90.30h3.6M436.0,90.30h-3.6M52.0,86.70h3.6M436.0,86.70h-3.6M52.0,83.10h3.6M436.0,83.10h-3.6M52.0,79.50h3.6M436.0,79.50h-3.6M52.0,75.90h3.6M436.0,75.90h-3.6M52.0,72.30h3.6M436.0,72.30h-3.6M52.0,68.70h3.6M436.0,68.70h-3.6M52.0,65.10h3.6M436.0,65.10h-3.6M52.0,61.50h8.0M436.0,61.50h-8.0" stroke="#000" stroke-width="1" fill="none"/>
<text transform="translate(52.0,293.0) scale(0.850,1)" font-size="14.0" text-anchor="middle" fill="#000" stroke="#000" stroke-width="0.22">0.2</text>
<text transform="translate(148.0,293.0) scale(0.850,1)" font-size="14.0" text-anchor="middle" fill="#000" stroke="#000" stroke-width="0.22">0.3</text>
<text transform="translate(244.0,293.0) scale(0.850,1)" font-size="14.0" text-anchor="middle" fill="#000" stroke="#000" stroke-width="0.22">0.4</text>
<text transform="translate(340.0,293.0) scale(0.850,1)" font-size="14.0" text-anchor="middle" fill="#000" stroke="#000" stroke-width="0.22">0.5</text>
<text transform="translate(436.0,293.0) scale(0.850,1)" font-size="14.0" text-anchor="middle" fill="#000" stroke="#000" stroke-width="0.22">0.6</text>
<text transform="translate(45.4,66.4) scale(0.850,1)" font-size="14.0" text-anchor="end" fill="#000" stroke="#000" stroke-width="0.22">0.03</text>
<text transform="translate(45.4,102.4) scale(0.850,1)" font-size="14.0" text-anchor="end" fill="#000" stroke="#000" stroke-width="0.22">0.02</text>
<text transform="translate(45.4,138.4) scale(0.850,1)" font-size="14.0" text-anchor="end" fill="#000" stroke="#000" stroke-width="0.22">0.01</text>
<text transform="translate(45.4,174.4) scale(0.850,1)" font-size="14.0" text-anchor="end" fill="#000" stroke="#000" stroke-width="0.22">0.00</text>
<text transform="translate(45.4,210.4) scale(0.850,1)" font-size="14.0" text-anchor="end" fill="#000" stroke="#000" stroke-width="0.22">-0.01</text>
<text transform="translate(45.4,246.4) scale(0.850,1)" font-size="14.0" text-anchor="end" fill="#000" stroke="#000" stroke-width="0.22">-0.02</text>
<text transform="translate(45.4,282.4) scale(0.850,1)" font-size="14.0" text-anchor="end" fill="#000" stroke="#000" stroke-width="0.22">-0.03</text>
<text transform="translate(243.4,308.7) scale(0.850,1)" font-size="14.6" text-anchor="middle" fill="#000" stroke="#000" stroke-width="0.22">Axial coordinate (m)</text>
<text transform="translate(12.0,170.5) rotate(-90) scale(1,0.850)" font-size="14.8" text-anchor="middle" fill="#000" stroke="#000" stroke-width="0.22">Radius (m)</text>
<defs><linearGradient id="cb" x1="0" y1="0" x2="0" y2="1"><stop offset="0.000" stop-color="#ffffff"/><stop offset="0.050" stop-color="#f1f1ff"/><stop offset="0.100" stop-color="#e3e3fe"/><stop offset="0.150" stop-color="#d5d5fe"/><stop offset="0.200" stop-color="#c7c7fe"/><stop offset="0.250" stop-color="#b9b9fd"/><stop offset="0.300" stop-color="#ababfc"/><stop offset="0.350" stop-color="#9c9cfa"/><stop offset="0.400" stop-color="#8e8ef8"/><stop offset="0.450" stop-color="#8080f1"/><stop offset="0.500" stop-color="#7272ea"/><stop offset="0.550" stop-color="#6666d6"/><stop offset="0.600" stop-color="#5a5ac2"/><stop offset="0.650" stop-color="#4f4fac"/><stop offset="0.700" stop-color="#444496"/><stop offset="0.750" stop-color="#39397e"/><stop offset="0.800" stop-color="#2e2e66"/><stop offset="0.850" stop-color="#22224c"/><stop offset="0.900" stop-color="#171733"/><stop offset="0.950" stop-color="#0b0b19"/><stop offset="1.000" stop-color="#000000"/></linearGradient></defs>
<rect x="479.2" y="66.5" width="17.1" height="206.8" fill="url(#cb)" stroke="#222" stroke-width="1"/>
<path d="M479.2,273.30h7.7M479.2,262.88h3.6M479.2,252.45h3.6M479.2,242.03h3.6M479.2,231.60h7.7M479.2,221.18h3.6M479.2,210.75h3.6M479.2,200.32h3.6M479.2,189.90h7.7M479.2,179.48h3.6M479.2,169.05h3.6M479.2,158.62h3.6M479.2,148.20h7.7M479.2,137.78h3.6M479.2,127.35h3.6M479.2,116.93h3.6M479.2,106.50h7.7M479.2,96.07h3.6M479.2,85.65h3.6M479.2,75.22h3.6" stroke="#111" stroke-width="1" fill="none"/>
<text transform="translate(474.4,111.1) scale(0.850,1)" font-size="11.5" text-anchor="end" fill="#000" stroke="#000" stroke-width="0.22">0.8</text>
<text transform="translate(474.4,152.8) scale(0.850,1)" font-size="11.5" text-anchor="end" fill="#000" stroke="#000" stroke-width="0.22">0.6</text>
<text transform="translate(474.4,194.5) scale(0.850,1)" font-size="11.5" text-anchor="end" fill="#000" stroke="#000" stroke-width="0.22">0.4</text>
<text transform="translate(474.4,236.2) scale(0.850,1)" font-size="11.5" text-anchor="end" fill="#000" stroke="#000" stroke-width="0.22">0.2</text>
<text transform="translate(474.4,279.4) scale(0.850,1)" font-size="11.5" text-anchor="end" fill="#000" stroke="#000" stroke-width="0.22">-0.0</text>
<text transform="translate(449.6,172.0) rotate(-90) scale(1,0.850)" font-size="12.7" text-anchor="middle" fill="#000" stroke="#000" stroke-width="0.22">Brightness (arb units)</text>
<rect x="529.7" y="23.1" width="317.7" height="244.2" fill="none" stroke="#333" stroke-width="1"/>
<path d="M529.70,267.3v-8.3M529.70,23.1v8.3M537.64,267.3v-4.0M537.64,23.1v4.0M545.59,267.3v-4.0M545.59,23.1v4.0M553.53,267.3v-4.0M553.53,23.1v4.0M561.47,267.3v-4.0M561.47,23.1v4.0M569.41,267.3v-4.0M569.41,23.1v4.0M577.36,267.3v-4.0M577.36,23.1v4.0M585.30,267.3v-4.0M585.30,23.1v4.0M593.24,267.3v-4.0M593.24,23.1v4.0M601.18,267.3v-4.0M601.18,23.1v4.0M609.12,267.3v-8.3M609.12,23.1v8.3M617.07,267.3v-4.0M617.07,23.1v4.0M625.01,267.3v-4.0M625.01,23.1v4.0M632.95,267.3v-4.0M632.95,23.1v4.0M640.89,267.3v-4.0M640.89,23.1v4.0M648.84,267.3v-4.0M648.84,23.1v4.0M656.78,267.3v-4.0M656.78,23.1v4.0M664.72,267.3v-4.0M664.72,23.1v4.0M672.66,267.3v-4.0M672.66,23.1v4.0M680.61,267.3v-4.0M680.61,23.1v4.0M688.55,267.3v-8.3M688.55,23.1v8.3M696.49,267.3v-4.0M696.49,23.1v4.0M704.43,267.3v-4.0M704.43,23.1v4.0M712.38,267.3v-4.0M712.38,23.1v4.0M720.32,267.3v-4.0M720.32,23.1v4.0M728.26,267.3v-4.0M728.26,23.1v4.0M736.21,267.3v-4.0M736.21,23.1v4.0M744.15,267.3v-4.0M744.15,23.1v4.0M752.09,267.3v-4.0M752.09,23.1v4.0M760.03,267.3v-4.0M760.03,23.1v4.0M767.98,267.3v-8.3M767.98,23.1v8.3M775.92,267.3v-4.0M775.92,23.1v4.0M783.86,267.3v-4.0M783.86,23.1v4.0M791.80,267.3v-4.0M791.80,23.1v4.0M799.75,267.3v-4.0M799.75,23.1v4.0M807.69,267.3v-4.0M807.69,23.1v4.0M815.63,267.3v-4.0M815.63,23.1v4.0M823.57,267.3v-4.0M823.57,23.1v4.0M831.51,267.3v-4.0M831.51,23.1v4.0M839.46,267.3v-4.0M839.46,23.1v4.0M847.40,267.3v-8.3M847.40,23.1v8.3M529.7,267.30h8.6M847.4,267.30h-8.6M529.7,256.20h4.6M847.4,256.20h-4.6M529.7,245.10h4.6M847.4,245.10h-4.6M529.7,234.00h4.6M847.4,234.00h-4.6M529.7,222.90h8.6M847.4,222.90h-8.6M529.7,211.80h4.6M847.4,211.80h-4.6M529.7,200.70h4.6M847.4,200.70h-4.6M529.7,189.60h4.6M847.4,189.60h-4.6M529.7,178.50h8.6M847.4,178.50h-8.6M529.7,167.40h4.6M847.4,167.40h-4.6M529.7,156.30h4.6M847.4,156.30h-4.6M529.7,145.20h4.6M847.4,145.20h-4.6M529.7,134.10h8.6M847.4,134.10h-8.6M529.7,123.00h4.6M847.4,123.00h-4.6M529.7,111.90h4.6M847.4,111.90h-4.6M529.7,100.80h4.6M847.4,100.80h-4.6M529.7,89.70h8.6M847.4,89.70h-8.6M529.7,78.60h4.6M847.4,78.60h-4.6M529.7,67.50h4.6M847.4,67.50h-4.6M529.7,56.40h4.6M847.4,56.40h-4.6M529.7,45.30h8.6M847.4,45.30h-8.6M529.7,34.20h4.6M847.4,34.20h-4.6M529.7,23.10h4.6M847.4,23.10h-4.6" stroke="#333" stroke-width="1" fill="none"/>
<text x="529.3" y="278.3" font-size="9.4" text-anchor="middle" fill="#222">-20</text>
<text x="608.7" y="278.3" font-size="9.4" text-anchor="middle" fill="#222">-10</text>
<text x="688.5" y="278.3" font-size="9.4" text-anchor="middle" fill="#222">0</text>
<text x="768.0" y="278.3" font-size="9.4" text-anchor="middle" fill="#222">10</text>
<text x="847.4" y="278.3" font-size="9.4" text-anchor="middle" fill="#222">20</text>
<text x="524.4" y="270.7" font-size="9.4" text-anchor="end" fill="#222">0.0</text>
<text x="524.4" y="226.3" font-size="9.4" text-anchor="end" fill="#222">0.2</text>
<text x="524.4" y="181.9" font-size="9.4" text-anchor="end" fill="#222">0.4</text>
<text x="524.4" y="137.5" font-size="9.4" text-anchor="end" fill="#222">0.6</text>
<text x="524.4" y="93.1" font-size="9.4" text-anchor="end" fill="#222">0.8</text>
<text x="524.4" y="48.7" font-size="9.4" text-anchor="end" fill="#222">1.0</text>
<text x="688.2" y="13.4" font-size="10" text-anchor="middle" fill="#222" textLength="158.8" lengthAdjust="spacingAndGlyphs">Brightness profiles: B-scan at 0.4 m</text>
<text x="688.0" y="288.8" font-size="10" text-anchor="middle" fill="#222" textLength="104" lengthAdjust="spacingAndGlyphs">Impact parameter (mm)</text>
<polyline fill="none" stroke="#e83a36" stroke-width="1.05" stroke-linejoin="round" points="532.1,267.3 532.4,264.0 533.8,261.4 535.7,260.9 537.6,260.2 539.5,259.4 541.2,258.5 543.0,257.5 544.7,256.5 546.4,255.4 548.1,254.4 549.8,253.3 551.6,252.3 553.3,251.3 555.1,250.5 556.9,249.7 558.8,249.0 560.7,248.4 562.6,247.8 564.6,247.3 566.5,246.9 568.5,246.5 570.5,246.1 572.5,245.7 574.4,245.3 576.4,245.0 578.4,244.6 580.3,244.2 582.3,243.9 584.3,243.5 586.2,243.1 588.2,242.6 590.1,242.2 592.0,241.7 594.0,241.2 595.9,240.7 597.9,240.2 599.8,239.7 601.7,239.2 603.7,238.6 605.6,238.1 607.5,237.6 609.5,237.1 611.4,236.7 613.4,236.2 615.3,235.7 617.2,235.2 619.2,234.7 621.1,234.2 623.0,233.6 624.9,233.1 626.8,232.5 628.7,231.8 630.6,231.2 632.5,230.5 634.4,229.8 636.3,229.1 638.1,228.3 640.0,227.5 641.8,226.7 643.6,225.9 645.4,225.1 647.2,224.2 649.0,223.3 650.8,222.4 652.6,221.5 654.3,220.5 656.1,219.6 657.8,218.6 659.5,217.5 661.2,216.5 662.9,215.4 664.6,214.3 666.3,213.3 668.0,212.2 669.7,211.1 671.3,210.0 673.0,208.9 674.7,207.8 676.4,206.8 678.1,205.8 679.9,204.8 681.7,203.9 683.5,203.0 685.3,202.1 687.1,201.4 689.0,200.7 690.9,200.1 692.9,199.6 694.9,199.2 696.8,199.0 698.8,198.9 700.9,198.9 702.9,199.1 704.8,199.5 706.8,199.9 708.7,200.5 710.6,201.2 712.5,201.9 714.3,202.7 716.1,203.6 717.9,204.5 719.7,205.4 721.5,206.3 723.3,207.2 725.1,208.1 726.9,208.9 728.7,209.8 730.5,210.7 732.3,211.6 734.0,212.5 735.8,213.5 737.5,214.5 739.2,215.5 740.9,216.6 742.5,217.7 744.2,218.8 745.9,219.9 747.5,221.1 749.2,222.2 750.9,223.3 752.6,224.4 754.3,225.5 756.0,226.5 757.8,227.5 759.5,228.4 761.3,229.3 763.2,230.1 765.0,230.8 766.9,231.5 768.8,232.0 770.7,232.5 772.6,233.0 774.6,233.5 776.6,233.9 778.5,234.4 780.5,234.8 782.4,235.4 784.3,236.0 786.3,236.6 788.2,237.2 790.1,237.8 792.0,238.4 793.9,238.7 795.9,239.0 797.9,239.1 799.9,239.1 801.9,239.0 803.9,238.9 805.9,238.9 807.9,238.9 809.9,239.2 811.9,239.6 813.8,240.2 814.0,240.3 816.1,246.5 816.4,267.3"/>
<polyline fill="none" stroke="#4646e2" stroke-width="1.05" stroke-linejoin="round" points="546.2,267.3 548.4,262.0 551.2,253.5 552.9,252.4 554.5,251.2 556.1,250.0 557.6,248.7 559.1,247.4 560.5,246.0 561.9,244.6 563.3,243.1 564.6,241.7 565.9,240.2 567.3,238.7 568.6,237.1 569.9,235.6 571.3,234.1 572.6,232.6 574.0,231.1 575.5,229.7 576.9,228.3 578.5,227.0 580.0,225.8 581.7,224.6 583.4,223.6 585.2,222.8 587.0,222.0 588.9,221.3 590.8,220.6 592.7,219.9 594.5,219.2 596.3,218.4 598.1,217.5 599.9,216.5 601.6,215.5 603.3,214.5 605.0,213.4 606.7,212.2 608.3,211.1 609.9,209.9 611.5,208.7 613.1,207.5 614.7,206.2 616.3,205.0 617.8,203.7 619.3,202.4 620.8,201.1 622.3,199.8 623.8,198.4 625.2,197.0 626.7,195.7 628.1,194.2 629.5,192.8 630.9,191.4 632.2,189.9 633.6,188.4 634.9,186.9 636.2,185.4 637.5,183.9 638.8,182.4 640.1,180.8 641.4,179.2 642.6,177.7 643.8,176.1 645.0,174.5 646.2,172.8 647.3,171.2 648.4,169.5 649.5,167.9 650.6,166.2 651.6,164.5 652.7,162.8 653.7,161.0 654.7,159.3 655.6,157.5 656.6,155.8 657.6,154.0 658.5,152.3 659.5,150.5 660.5,148.8 661.5,147.0 662.4,145.3 663.5,143.6 664.5,141.9 665.5,140.2 666.6,138.5 667.6,136.8 668.7,135.1 669.7,133.4 670.8,131.6 671.8,129.9 672.8,128.2 673.8,126.4 674.7,124.7 675.6,122.9 676.6,121.1 677.5,119.4 678.5,117.6 679.5,115.9 680.5,114.2 681.7,112.5 682.8,110.9 684.1,109.4 685.5,108.0 687.0,106.6 688.7,105.3 690.4,104.3 692.3,103.6 694.3,103.4 696.2,103.6 698.2,104.3 700.0,105.3 701.6,106.5 703.1,107.8 704.5,109.3 705.8,110.8 707.1,112.3 708.3,113.9 709.5,115.5 710.6,117.2 711.8,118.8 712.9,120.5 714.0,122.1 715.1,123.8 716.2,125.5 717.3,127.1 718.4,128.8 719.4,130.5 720.5,132.2 721.5,134.0 722.5,135.7 723.5,137.4 724.5,139.2 725.5,140.9 726.4,142.7 727.3,144.5 728.3,146.2 729.2,148.0 730.1,149.8 731.0,151.6 731.9,153.3 732.9,155.1 733.8,156.9 734.8,158.6 735.7,160.4 736.7,162.1 737.8,163.8 738.8,165.5 739.9,167.2 740.9,168.9 742.0,170.6 743.1,172.3 744.2,174.0 745.3,175.6 746.5,177.3 747.6,178.9 748.8,180.5 750.0,182.1 751.3,183.7 752.6,185.2 754.0,186.6 755.4,188.0 756.9,189.4 758.4,190.7 759.9,191.9 761.5,193.2 763.1,194.4 764.7,195.7 766.3,196.9 767.8,198.1 769.4,199.3 771.0,200.5 772.6,201.7 774.2,202.9 775.8,204.1 777.4,205.3 779.1,206.5 780.7,207.6 782.3,208.8 784.0,209.9 785.7,211.0 787.4,212.1 789.1,213.1 790.8,214.1 792.6,215.1 794.3,216.0 796.1,216.9 797.9,217.7 799.7,218.6 801.5,219.5 803.3,220.4 805.0,221.5 806.7,222.6 808.3,223.8 809.8,225.1 811.2,226.5 812.3,228.1 813.3,229.9 814.1,231.7 814.6,233.8 814.7,234.4 816.1,243.1 816.4,267.3"/>
<polyline fill="none" stroke="#f03cf0" stroke-width="1.05" stroke-linejoin="round" points="551.2,267.3 552.9,262.0 554.6,255.2 555.8,253.6 556.9,251.9 558.1,250.3 559.3,248.7 560.5,247.1 561.7,245.5 562.9,243.9 564.1,242.4 565.4,240.8 566.6,239.2 567.9,237.7 569.1,236.1 570.4,234.5 571.7,233.0 572.9,231.5 574.2,229.9 575.5,228.4 576.7,226.8 578.0,225.2 579.2,223.7 580.4,222.1 581.6,220.5 582.8,218.8 583.9,217.2 585.0,215.5 586.0,213.8 587.1,212.1 588.2,210.4 589.3,208.8 590.4,207.1 591.5,205.4 592.6,203.8 593.8,202.1 595.0,200.6 596.3,199.0 597.6,197.5 599.0,196.1 600.4,194.7 601.9,193.3 603.4,192.0 604.9,190.6 606.4,189.3 607.8,187.9 609.3,186.5 610.7,185.1 612.0,183.7 613.4,182.2 614.7,180.7 615.9,179.1 617.2,177.6 618.4,176.0 619.7,174.4 620.9,172.8 622.1,171.2 623.3,169.6 624.6,168.1 625.8,166.5 627.0,164.9 628.2,163.3 629.4,161.7 630.6,160.1 631.8,158.5 633.0,156.9 634.2,155.2 635.3,153.6 636.5,152.0 637.6,150.3 638.7,148.7 639.8,147.0 640.9,145.3 642.0,143.6 643.0,141.9 644.0,140.2 645.0,138.5 646.0,136.7 646.9,134.9 647.8,133.1 648.7,131.3 649.5,129.5 650.4,127.7 651.3,125.9 652.2,124.1 653.1,122.4 654.1,120.6 655.0,118.9 656.1,117.2 657.1,115.5 658.2,113.7 659.2,112.0 660.2,110.3 661.1,108.5 662.1,106.8 662.9,105.0 663.8,103.2 664.7,101.4 665.5,99.6 666.3,97.7 667.2,95.9 668.0,94.1 668.8,92.2 669.6,90.4 670.5,88.6 671.3,86.8 672.2,85.0 673.1,83.2 674.0,81.4 675.0,79.7 675.9,77.9 677.0,76.2 678.0,74.5 679.1,72.8 680.2,71.2 681.4,69.5 682.6,67.9 683.9,66.4 685.3,64.9 686.8,63.6 688.5,62.5 690.4,61.7 692.3,61.3 694.3,61.4 696.3,62.0 698.1,63.0 699.8,64.1 701.3,65.4 702.7,66.8 704.0,68.3 705.2,70.0 706.3,71.7 707.4,73.4 708.5,75.1 709.5,76.8 710.5,78.6 711.5,80.3 712.5,82.1 713.5,83.8 714.5,85.5 715.4,87.3 716.4,89.0 717.3,90.8 718.3,92.5 719.2,94.3 720.1,96.1 721.0,97.9 721.9,99.7 722.8,101.4 723.7,103.2 724.6,105.0 725.5,106.8 726.4,108.6 727.3,110.4 728.3,112.1 729.2,113.9 730.2,115.6 731.2,117.4 732.1,119.2 733.1,120.9 734.0,122.7 734.9,124.4 735.8,126.2 736.7,128.0 737.6,129.8 738.4,131.6 739.3,133.5 740.1,135.3 740.9,137.1 741.8,138.9 742.7,140.7 743.5,142.5 744.4,144.3 745.3,146.1 746.3,147.8 747.3,149.6 748.3,151.3 749.3,153.0 750.4,154.7 751.5,156.4 752.6,158.0 753.8,159.6 755.0,161.2 756.2,162.8 757.5,164.4 758.7,165.9 760.0,167.5 761.3,169.0 762.6,170.6 763.8,172.1 765.1,173.6 766.4,175.2 767.7,176.7 769.0,178.2 770.4,179.7 771.7,181.2 773.0,182.7 774.3,184.2 775.6,185.7 777.0,187.2 778.3,188.7 779.6,190.2 781.0,191.7 782.3,193.2 783.7,194.6 785.0,196.1 786.3,197.6 787.7,199.1 789.0,200.6 790.3,202.1 791.6,203.6 793.0,205.1 794.3,206.6 795.6,208.1 796.9,209.6 798.2,211.2 799.4,212.7 800.7,214.3 801.9,215.9 803.1,217.5 804.3,219.1 805.5,220.7 806.6,222.4 807.7,224.0 808.8,225.7 809.8,227.4 810.7,229.2 811.7,231.0 812.5,232.8 813.3,234.6 814.0,236.2 816.1,244.8 816.4,267.3"/>
<polyline fill="none" stroke="#8c4236" stroke-width="1.05" stroke-linejoin="round" points="554.2,267.3 555.7,262.0 557.4,250.7 558.7,249.2 560.0,247.6 561.2,246.1 562.5,244.5 563.7,242.9 564.9,241.4 566.2,239.8 567.4,238.2 568.7,236.7 570.0,235.1 571.3,233.6 572.6,232.1 574.0,230.7 575.4,229.2 576.8,227.8 578.3,226.5 579.7,225.0 581.0,223.5 582.2,222.0 583.3,220.3 584.3,218.6 585.2,216.8 586.1,215.0 587.0,213.2 587.8,211.4 588.7,209.5 589.6,207.7 590.5,205.9 591.5,204.2 592.5,202.4 593.5,200.7 594.6,199.0 595.7,197.3 596.8,195.7 597.9,194.0 599.1,192.4 600.2,190.8 601.4,189.2 602.6,187.6 603.9,186.0 605.1,184.4 606.3,182.9 607.6,181.3 608.8,179.7 610.1,178.2 611.3,176.6 612.6,175.0 613.8,173.5 615.1,171.9 616.3,170.3 617.5,168.7 618.7,167.1 619.9,165.5 621.1,163.9 622.2,162.3 623.4,160.6 624.5,158.9 625.5,157.3 626.6,155.6 627.6,153.8 628.6,152.1 629.6,150.4 630.5,148.6 631.5,146.9 632.4,145.1 633.4,143.3 634.3,141.6 635.3,139.8 636.2,138.0 637.1,136.2 638.1,134.5 639.0,132.7 640.0,131.0 640.9,129.2 641.9,127.5 642.9,125.7 643.8,124.0 644.8,122.2 645.8,120.5 646.8,118.7 647.8,117.0 648.8,115.3 649.7,113.5 650.7,111.8 651.7,110.0 652.6,108.2 653.5,106.5 654.5,104.7 655.4,102.9 656.3,101.2 657.2,99.4 658.2,97.6 659.1,95.8 660.0,94.0 660.9,92.3 661.8,90.5 662.7,88.7 663.7,86.9 664.6,85.2 665.5,83.4 666.4,81.6 667.4,79.8 668.3,78.1 669.2,76.3 670.2,74.5 671.1,72.8 672.0,71.0 672.9,69.2 673.8,67.4 674.7,65.7 675.7,63.9 676.6,62.1 677.5,60.4 678.5,58.6 679.5,56.9 680.6,55.2 681.7,53.5 682.9,51.9 684.2,50.3 685.6,48.8 687.1,47.6 688.8,46.6 690.7,45.8 692.7,45.4 694.7,45.3 696.8,45.4 698.7,45.9 700.6,46.6 702.3,47.7 703.8,48.9 705.2,50.3 706.6,51.9 707.8,53.6 709.0,55.2 710.1,56.9 711.1,58.7 712.2,60.4 713.1,62.1 714.1,63.9 715.0,65.6 715.9,67.4 716.8,69.2 717.7,71.0 718.6,72.7 719.5,74.5 720.4,76.3 721.3,78.1 722.2,79.9 723.1,81.7 723.9,83.5 724.8,85.3 725.7,87.1 726.6,88.9 727.5,90.7 728.3,92.5 729.2,94.3 730.0,96.1 730.9,97.9 731.7,99.7 732.5,101.6 733.3,103.4 734.2,105.2 735.0,107.0 735.8,108.9 736.6,110.7 737.4,112.5 738.2,114.3 739.0,116.2 739.9,118.0 740.7,119.8 741.5,121.6 742.3,123.5 743.2,125.3 744.0,127.1 744.8,128.9 745.7,130.7 746.6,132.5 747.5,134.3 748.4,136.1 749.3,137.9 750.2,139.6 751.1,141.4 752.1,143.2 753.1,144.9 754.1,146.6 755.1,148.4 756.1,150.1 757.1,151.8 758.2,153.5 759.2,155.2 760.3,156.9 761.3,158.6 762.4,160.3 763.5,162.0 764.6,163.7 765.7,165.3 766.8,167.0 767.9,168.7 769.0,170.3 770.1,172.0 771.2,173.7 772.3,175.3 773.4,177.0 774.6,178.7 775.7,180.3 776.8,182.0 777.9,183.6 779.0,185.3 780.1,187.0 781.2,188.7 782.3,190.3 783.3,192.0 784.4,193.7 785.4,195.4 786.5,197.1 787.5,198.8 788.5,200.6 789.6,202.3 790.6,204.0 791.6,205.7 792.6,207.5 793.6,209.2 794.6,210.9 795.6,212.7 796.6,214.4 797.6,216.1 798.7,217.8 799.7,219.5 800.7,221.2 801.8,222.9 802.9,224.6 803.9,226.3 805.0,228.0 806.2,229.6 807.3,231.3 808.5,232.9 809.7,234.5 810.9,236.1 812.1,237.7 812.3,237.9 815.4,243.1 816.4,267.3"/>
<text x="722.6" y="73.1" font-size="15.8" fill="#000" textLength="48.5" lengthAdjust="spacingAndGlyphs">170mT</text>
<text x="676.5" y="94.4" font-size="14.0" fill="#000" textLength="40.4" lengthAdjust="spacingAndGlyphs">132mT</text>
<text x="680.4" y="145.0" font-size="15.6" fill="#000" textLength="39.8" lengthAdjust="spacingAndGlyphs">95mT</text>
<text x="680.4" y="221.3" font-size="15.6" fill="#000" textLength="39.8" lengthAdjust="spacingAndGlyphs">57mT</text>
</svg></body></html>
